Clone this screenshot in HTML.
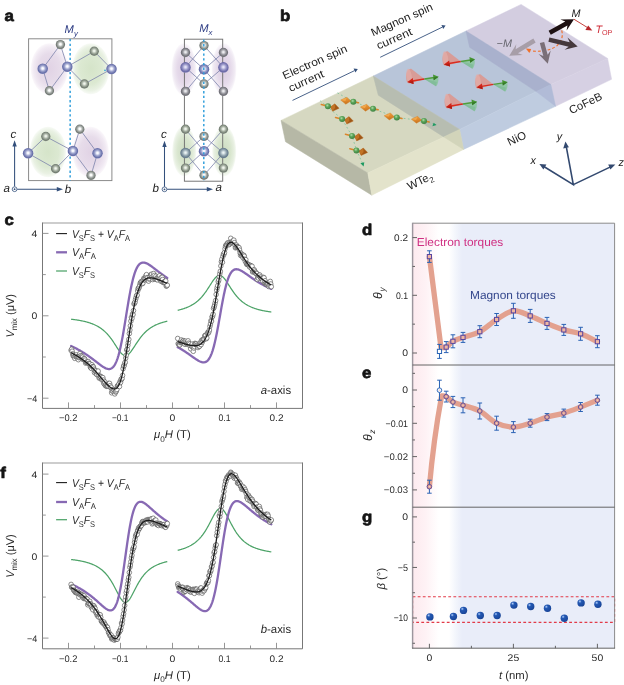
<!DOCTYPE html>
<html><head><meta charset="utf-8"><title>Figure</title>
<style>
html,body{margin:0;padding:0;background:#fff;}
svg{display:block;font-family:"Liberation Sans",sans-serif;text-rendering:geometricPrecision;}
</style></head><body>
<svg width="624" height="685" viewBox="0 0 624 685">
<rect width="624" height="685" fill="#fff"/>
<g>
<path d="M71.1 319.21 L71.62 319.28 L72.14 319.34 L72.66 319.4 L73.18 319.47 L73.7 319.53 L74.22 319.6 L74.74 319.67 L75.26 319.75 L75.78 319.82 L76.3 319.9 L76.82 319.98 L77.34 320.06 L77.86 320.14 L78.38 320.23 L78.9 320.32 L79.42 320.41 L79.94 320.5 L80.46 320.6 L80.98 320.69 L81.5 320.8 L82.02 320.9 L82.54 321.01 L83.06 321.12 L83.58 321.24 L84.1 321.36 L84.62 321.48 L85.14 321.6 L85.66 321.73 L86.18 321.87 L86.7 322.01 L87.22 322.15 L87.74 322.3 L88.26 322.45 L88.78 322.61 L89.3 322.77 L89.82 322.94 L90.34 323.11 L90.86 323.29 L91.38 323.48 L91.9 323.67 L92.42 323.87 L92.94 324.08 L93.46 324.29 L93.98 324.51 L94.5 324.74 L95.02 324.98 L95.54 325.23 L96.06 325.48 L96.58 325.75 L97.1 326.02 L97.62 326.3 L98.14 326.6 L98.66 326.91 L99.18 327.22 L99.7 327.55 L100.22 327.89 L100.74 328.25 L101.26 328.61 L101.78 329 L102.3 329.39 L102.82 329.8 L103.34 330.23 L103.86 330.67 L104.38 331.13 L104.9 331.6 L105.42 332.09 L105.94 332.6 L106.46 333.13 L106.98 333.68 L107.5 334.24 L108.02 334.83 L108.54 335.43 L109.06 336.06 L109.58 336.7 L110.1 337.36 L110.62 338.04 L111.14 338.74 L111.66 339.46 L112.18 340.19 L112.7 340.94 L113.22 341.71 L113.74 342.48 L114.26 343.27 L114.78 344.07 L115.3 344.87 L115.82 345.68 L116.34 346.49 L116.86 347.29 L117.38 348.08 L117.9 348.86 L118.42 349.63 L118.94 350.37 L119.46 351.08 L119.98 351.76 L120.5 352.4 L121.02 353 L121.54 353.54 L122.06 354.03 L122.58 354.46 L123.1 354.82 L123.62 355.11 L124.14 355.34 L124.66 355.48 L125.18 355.55 L125.7 355.54 L126.22 355.46 L126.74 355.3 L127.26 355.06 L127.78 354.75 L128.3 354.38 L128.82 353.94 L129.34 353.44 L129.86 352.88 L130.38 352.28 L130.9 351.63 L131.42 350.94 L131.94 350.22 L132.46 349.48 L132.98 348.71 L133.5 347.92 L134.02 347.13 L134.54 346.32 L135.06 345.52 L135.58 344.71 L136.1 343.91 L136.62 343.11 L137.14 342.33 L137.66 341.55 L138.18 340.79 L138.7 340.04 L139.22 339.31 L139.74 338.6 L140.26 337.9 L140.78 337.23 L141.3 336.57 L141.82 335.93 L142.34 335.31 L142.86 334.71 L143.38 334.13 L143.9 333.57 L144.42 333.02 L144.94 332.5 L145.46 331.99 L145.98 331.51 L146.5 331.03 L147.02 330.58 L147.54 330.14 L148.06 329.72 L148.58 329.31 L149.1 328.92 L149.62 328.54 L150.14 328.18 L150.66 327.82 L151.18 327.48 L151.7 327.16 L152.22 326.84 L152.74 326.54 L153.26 326.25 L153.78 325.96 L154.3 325.69 L154.82 325.43 L155.34 325.18 L155.86 324.93 L156.38 324.7 L156.9 324.47 L157.42 324.25 L157.94 324.04 L158.46 323.83 L158.98 323.63 L159.5 323.44 L160.02 323.26 L160.54 323.08 L161.06 322.91 L161.58 322.74 L162.1 322.58 L162.62 322.42 L163.14 322.27 L163.66 322.12 L164.18 321.98 L164.7 321.84 L165.22 321.71 L165.74 321.58 L166.26 321.45 L166.78 321.33 L167.3 321.21" fill="none" stroke="#4da368" stroke-width="1.25" stroke-linejoin="round"/>
<path d="M71.1 346.07 L71.62 346.31 L72.14 346.55 L72.66 346.79 L73.18 347.04 L73.7 347.29 L74.22 347.55 L74.74 347.8 L75.26 348.06 L75.78 348.33 L76.3 348.6 L76.82 348.87 L77.34 349.14 L77.86 349.42 L78.38 349.7 L78.9 349.99 L79.42 350.28 L79.94 350.58 L80.46 350.87 L80.98 351.18 L81.5 351.48 L82.02 351.79 L82.54 352.11 L83.06 352.43 L83.58 352.75 L84.1 353.08 L84.62 353.41 L85.14 353.75 L85.66 354.09 L86.18 354.43 L86.7 354.78 L87.22 355.13 L87.74 355.49 L88.26 355.85 L88.78 356.21 L89.3 356.58 L89.82 356.95 L90.34 357.33 L90.86 357.71 L91.38 358.09 L91.9 358.48 L92.42 358.87 L92.94 359.26 L93.46 359.65 L93.98 360.05 L94.5 360.45 L95.02 360.85 L95.54 361.25 L96.06 361.66 L96.58 362.06 L97.1 362.46 L97.62 362.87 L98.14 363.27 L98.66 363.67 L99.18 364.06 L99.7 364.45 L100.22 364.84 L100.74 365.22 L101.26 365.59 L101.78 365.96 L102.3 366.31 L102.82 366.66 L103.34 366.99 L103.86 367.3 L104.38 367.6 L104.9 367.87 L105.42 368.13 L105.94 368.36 L106.46 368.56 L106.98 368.74 L107.5 368.87 L108.02 368.98 L108.54 369.04 L109.06 369.05 L109.58 369.01 L110.1 368.92 L110.62 368.78 L111.14 368.56 L111.66 368.28 L112.18 367.92 L112.7 367.48 L113.22 366.95 L113.74 366.33 L114.26 365.61 L114.78 364.78 L115.3 363.84 L115.82 362.79 L116.34 361.61 L116.86 360.3 L117.38 358.86 L117.9 357.28 L118.42 355.57 L118.94 353.71 L119.46 351.71 L119.98 349.57 L120.5 347.28 L121.02 344.86 L121.54 342.32 L122.06 339.64 L122.58 336.85 L123.1 333.96 L123.62 330.97 L124.14 327.9 L124.66 324.77 L125.18 321.59 L125.7 318.38 L126.22 315.15 L126.74 311.93 L127.26 308.73 L127.78 305.57 L128.3 302.46 L128.82 299.42 L129.34 296.47 L129.86 293.62 L130.38 290.87 L130.9 288.25 L131.42 285.75 L131.94 283.39 L132.46 281.16 L132.98 279.08 L133.5 277.13 L134.02 275.33 L134.54 273.67 L135.06 272.15 L135.58 270.76 L136.1 269.51 L136.62 268.38 L137.14 267.37 L137.66 266.48 L138.18 265.69 L138.7 265.01 L139.22 264.43 L139.74 263.94 L140.26 263.53 L140.78 263.2 L141.3 262.95 L141.82 262.76 L142.34 262.63 L142.86 262.57 L143.38 262.55 L143.9 262.58 L144.42 262.66 L144.94 262.78 L145.46 262.93 L145.98 263.11 L146.5 263.33 L147.02 263.57 L147.54 263.83 L148.06 264.12 L148.58 264.42 L149.1 264.74 L149.62 265.08 L150.14 265.43 L150.66 265.79 L151.18 266.15 L151.7 266.53 L152.22 266.91 L152.74 267.3 L153.26 267.7 L153.78 268.09 L154.3 268.49 L154.82 268.89 L155.34 269.3 L155.86 269.7 L156.38 270.1 L156.9 270.51 L157.42 270.91 L157.94 271.31 L158.46 271.71 L158.98 272.1 L159.5 272.5 L160.02 272.89 L160.54 273.28 L161.06 273.66 L161.58 274.04 L162.1 274.42 L162.62 274.8 L163.14 275.17 L163.66 275.53 L164.18 275.9 L164.7 276.26 L165.22 276.61 L165.74 276.96 L166.26 277.31 L166.78 277.65 L167.3 277.99" fill="none" stroke="#8769b3" stroke-width="2.3" stroke-linejoin="round" stroke-linecap="round"/>
<g fill="#fff" stroke="#505050" stroke-width="0.65"><circle cx="71.1" cy="350.32" r="2.3"/><circle cx="71.62" cy="349.21" r="2.3"/><circle cx="72.14" cy="351.22" r="2.3"/><circle cx="72.66" cy="353.83" r="2.3"/><circle cx="73.18" cy="355.86" r="2.3"/><circle cx="73.7" cy="355.06" r="2.3"/><circle cx="74.22" cy="356.65" r="2.3"/><circle cx="74.74" cy="358.33" r="2.3"/><circle cx="75.26" cy="356.46" r="2.3"/><circle cx="75.78" cy="355.79" r="2.3"/><circle cx="76.3" cy="354.89" r="2.3"/><circle cx="76.82" cy="357.16" r="2.3"/><circle cx="77.34" cy="356.84" r="2.3"/><circle cx="77.86" cy="356.96" r="2.3"/><circle cx="78.38" cy="359.71" r="2.3"/><circle cx="78.9" cy="357.67" r="2.3"/><circle cx="79.42" cy="357.2" r="2.3"/><circle cx="79.94" cy="353.51" r="2.3"/><circle cx="80.46" cy="355.67" r="2.3"/><circle cx="80.98" cy="357.53" r="2.3"/><circle cx="81.5" cy="356.22" r="2.3"/><circle cx="82.02" cy="357.56" r="2.3"/><circle cx="82.54" cy="357.17" r="2.3"/><circle cx="83.06" cy="359.39" r="2.3"/><circle cx="83.58" cy="359.67" r="2.3"/><circle cx="84.1" cy="358.6" r="2.3"/><circle cx="84.62" cy="358.83" r="2.3"/><circle cx="85.14" cy="360.14" r="2.3"/><circle cx="85.66" cy="363.12" r="2.3"/><circle cx="86.18" cy="362.15" r="2.3"/><circle cx="86.7" cy="362.52" r="2.3"/><circle cx="87.22" cy="361.8" r="2.3"/><circle cx="87.74" cy="362.54" r="2.3"/><circle cx="88.26" cy="361.62" r="2.3"/><circle cx="88.78" cy="363.38" r="2.3"/><circle cx="89.3" cy="364.06" r="2.3"/><circle cx="89.82" cy="363.82" r="2.3"/><circle cx="90.34" cy="367.03" r="2.3"/><circle cx="90.86" cy="367.68" r="2.3"/><circle cx="91.38" cy="368.43" r="2.3"/><circle cx="91.9" cy="364.73" r="2.3"/><circle cx="92.42" cy="366.77" r="2.3"/><circle cx="92.94" cy="366.76" r="2.3"/><circle cx="93.46" cy="367.09" r="2.3"/><circle cx="93.98" cy="369.11" r="2.3"/><circle cx="94.5" cy="372.63" r="2.3"/><circle cx="95.02" cy="370.27" r="2.3"/><circle cx="95.54" cy="371.78" r="2.3"/><circle cx="96.06" cy="370.87" r="2.3"/><circle cx="96.58" cy="374.25" r="2.3"/><circle cx="97.1" cy="374.72" r="2.3"/><circle cx="97.62" cy="372.29" r="2.3"/><circle cx="98.14" cy="371.07" r="2.3"/><circle cx="98.66" cy="375.56" r="2.3"/><circle cx="99.18" cy="378.16" r="2.3"/><circle cx="99.7" cy="377.51" r="2.3"/><circle cx="100.22" cy="376.14" r="2.3"/><circle cx="100.74" cy="376.75" r="2.3"/><circle cx="101.26" cy="377.11" r="2.3"/><circle cx="101.78" cy="379.85" r="2.3"/><circle cx="102.3" cy="378.77" r="2.3"/><circle cx="102.82" cy="377.59" r="2.3"/><circle cx="103.34" cy="380.02" r="2.3"/><circle cx="103.86" cy="383.27" r="2.3"/><circle cx="104.38" cy="384" r="2.3"/><circle cx="104.9" cy="381.98" r="2.3"/><circle cx="105.42" cy="385.62" r="2.3"/><circle cx="105.94" cy="384.84" r="2.3"/><circle cx="106.46" cy="386.28" r="2.3"/><circle cx="106.98" cy="385.76" r="2.3"/><circle cx="107.5" cy="385.95" r="2.3"/><circle cx="108.02" cy="385.83" r="2.3"/><circle cx="108.54" cy="383.4" r="2.3"/><circle cx="109.06" cy="384.3" r="2.3"/><circle cx="109.58" cy="383.36" r="2.3"/><circle cx="110.1" cy="385.67" r="2.3"/><circle cx="110.62" cy="387.6" r="2.3"/><circle cx="111.14" cy="387.22" r="2.3"/><circle cx="111.66" cy="392.8" r="2.3"/><circle cx="112.18" cy="390.82" r="2.3"/><circle cx="112.7" cy="389.57" r="2.3"/><circle cx="113.22" cy="391.45" r="2.3"/><circle cx="113.74" cy="389.45" r="2.3"/><circle cx="114.26" cy="390.23" r="2.3"/><circle cx="114.78" cy="393.9" r="2.3"/><circle cx="115.3" cy="391.7" r="2.3"/><circle cx="115.82" cy="391.8" r="2.3"/><circle cx="116.34" cy="390.84" r="2.3"/><circle cx="116.86" cy="389.45" r="2.3"/><circle cx="117.38" cy="385.96" r="2.3"/><circle cx="117.9" cy="385.82" r="2.3"/><circle cx="118.42" cy="385.5" r="2.3"/><circle cx="118.94" cy="384.05" r="2.3"/><circle cx="119.46" cy="386.53" r="2.3"/><circle cx="119.98" cy="381.69" r="2.3"/><circle cx="120.5" cy="382.5" r="2.3"/><circle cx="121.02" cy="379.34" r="2.3"/><circle cx="121.54" cy="379.5" r="2.3"/><circle cx="122.06" cy="378.22" r="2.3"/><circle cx="122.58" cy="375.38" r="2.3"/><circle cx="123.1" cy="368.68" r="2.3"/><circle cx="123.62" cy="366.09" r="2.3"/><circle cx="124.14" cy="365.64" r="2.3"/><circle cx="124.66" cy="363.38" r="2.3"/><circle cx="125.18" cy="362.21" r="2.3"/><circle cx="125.7" cy="358.08" r="2.3"/><circle cx="126.22" cy="355.31" r="2.3"/><circle cx="126.74" cy="349.99" r="2.3"/><circle cx="127.26" cy="349.27" r="2.3"/><circle cx="127.78" cy="345.42" r="2.3"/><circle cx="128.3" cy="342.68" r="2.3"/><circle cx="128.82" cy="339.39" r="2.3"/><circle cx="129.34" cy="333.57" r="2.3"/><circle cx="129.86" cy="330.02" r="2.3"/><circle cx="130.38" cy="325.83" r="2.3"/><circle cx="130.9" cy="321.1" r="2.3"/><circle cx="131.42" cy="317.28" r="2.3"/><circle cx="131.94" cy="318.31" r="2.3"/><circle cx="132.46" cy="314.07" r="2.3"/><circle cx="132.98" cy="314.62" r="2.3"/><circle cx="133.5" cy="310.63" r="2.3"/><circle cx="134.02" cy="303.94" r="2.3"/><circle cx="134.54" cy="303.14" r="2.3"/><circle cx="135.06" cy="301.96" r="2.3"/><circle cx="135.58" cy="299.4" r="2.3"/><circle cx="136.1" cy="297.43" r="2.3"/><circle cx="136.62" cy="295.53" r="2.3"/><circle cx="137.14" cy="295.13" r="2.3"/><circle cx="137.66" cy="290.94" r="2.3"/><circle cx="138.18" cy="288.47" r="2.3"/><circle cx="138.7" cy="288.52" r="2.3"/><circle cx="139.22" cy="287.02" r="2.3"/><circle cx="139.74" cy="285.12" r="2.3"/><circle cx="140.26" cy="283.01" r="2.3"/><circle cx="140.78" cy="282.63" r="2.3"/><circle cx="141.3" cy="281.49" r="2.3"/><circle cx="141.82" cy="282.24" r="2.3"/><circle cx="142.34" cy="283.69" r="2.3"/><circle cx="142.86" cy="283.11" r="2.3"/><circle cx="143.38" cy="279.91" r="2.3"/><circle cx="143.9" cy="278.16" r="2.3"/><circle cx="144.42" cy="278.53" r="2.3"/><circle cx="144.94" cy="279.79" r="2.3"/><circle cx="145.46" cy="278.74" r="2.3"/><circle cx="145.98" cy="275.72" r="2.3"/><circle cx="146.5" cy="274.64" r="2.3"/><circle cx="147.02" cy="277.58" r="2.3"/><circle cx="147.54" cy="277.87" r="2.3"/><circle cx="148.06" cy="280.43" r="2.3"/><circle cx="148.58" cy="281.12" r="2.3"/><circle cx="149.1" cy="279.12" r="2.3"/><circle cx="149.62" cy="278.41" r="2.3"/><circle cx="150.14" cy="276.41" r="2.3"/><circle cx="150.66" cy="274.89" r="2.3"/><circle cx="151.18" cy="274.92" r="2.3"/><circle cx="151.7" cy="274.12" r="2.3"/><circle cx="152.22" cy="277.03" r="2.3"/><circle cx="152.74" cy="279.56" r="2.3"/><circle cx="153.26" cy="278.02" r="2.3"/><circle cx="153.78" cy="273.51" r="2.3"/><circle cx="154.3" cy="275.39" r="2.3"/><circle cx="154.82" cy="279.04" r="2.3"/><circle cx="155.34" cy="278.51" r="2.3"/><circle cx="155.86" cy="276.25" r="2.3"/><circle cx="156.38" cy="279.52" r="2.3"/><circle cx="156.9" cy="278.03" r="2.3"/><circle cx="157.42" cy="279.85" r="2.3"/><circle cx="157.94" cy="277.57" r="2.3"/><circle cx="158.46" cy="277.37" r="2.3"/><circle cx="158.98" cy="278.22" r="2.3"/><circle cx="159.5" cy="275.78" r="2.3"/><circle cx="160.02" cy="278.88" r="2.3"/><circle cx="160.54" cy="281.02" r="2.3"/><circle cx="161.06" cy="277.75" r="2.3"/><circle cx="161.58" cy="281.01" r="2.3"/><circle cx="162.1" cy="277.36" r="2.3"/><circle cx="162.62" cy="279.57" r="2.3"/><circle cx="163.14" cy="282.53" r="2.3"/><circle cx="163.66" cy="282.3" r="2.3"/><circle cx="164.18" cy="282.07" r="2.3"/><circle cx="164.7" cy="281.94" r="2.3"/><circle cx="165.22" cy="282.68" r="2.3"/><circle cx="165.74" cy="280.93" r="2.3"/><circle cx="166.26" cy="286.12" r="2.3"/><circle cx="166.78" cy="285.73" r="2.3"/><circle cx="167.3" cy="285.14" r="2.3"/></g>
<path d="M71.1 352.58 L71.62 352.87 L72.14 353.17 L72.66 353.47 L73.18 353.77 L73.7 354.07 L74.22 354.37 L74.74 354.67 L75.26 354.98 L75.78 355.29 L76.3 355.6 L76.82 355.91 L77.34 356.22 L77.86 356.54 L78.38 356.86 L78.9 357.19 L79.42 357.52 L79.94 357.85 L80.46 358.19 L80.98 358.54 L81.5 358.89 L82.02 359.24 L82.54 359.6 L83.06 359.97 L83.58 360.34 L84.1 360.72 L84.62 361.11 L85.14 361.51 L85.66 361.91 L86.18 362.32 L86.7 362.74 L87.22 363.17 L87.74 363.61 L88.26 364.05 L88.78 364.51 L89.3 364.98 L89.82 365.45 L90.34 365.94 L90.86 366.43 L91.38 366.93 L91.9 367.45 L92.42 367.97 L92.94 368.5 L93.46 369.04 L93.98 369.6 L94.5 370.15 L95.02 370.72 L95.54 371.3 L96.06 371.88 L96.58 372.47 L97.1 373.06 L97.62 373.66 L98.14 374.26 L98.66 374.87 L99.18 375.48 L99.7 376.09 L100.22 376.7 L100.74 377.31 L101.26 377.92 L101.78 378.53 L102.3 379.13 L102.82 379.73 L103.34 380.33 L103.86 380.91 L104.38 381.49 L104.9 382.06 L105.42 382.63 L105.94 383.18 L106.46 383.72 L106.98 384.25 L107.5 384.76 L108.02 385.26 L108.54 385.74 L109.06 386.21 L109.58 386.65 L110.1 387.07 L110.62 387.45 L111.14 387.81 L111.66 388.13 L112.18 388.41 L112.7 388.65 L113.22 388.83 L113.74 388.95 L114.26 389 L114.78 388.98 L115.3 388.87 L115.82 388.67 L116.34 388.36 L116.86 387.94 L117.38 387.4 L117.9 386.72 L118.42 385.9 L118.94 384.93 L119.46 383.79 L119.98 382.49 L120.5 381.02 L121.02 379.37 L121.54 377.54 L122.06 375.53 L122.58 373.34 L123.1 370.98 L123.62 368.46 L124.14 365.77 L124.66 362.94 L125.18 359.98 L125.7 356.9 L126.22 353.72 L126.74 350.46 L127.26 347.13 L127.78 343.76 L128.3 340.37 L128.82 336.98 L129.34 333.61 L129.86 330.27 L130.38 326.98 L130.9 323.76 L131.42 320.62 L131.94 317.58 L132.46 314.64 L132.98 311.82 L133.5 309.12 L134.02 306.55 L134.54 304.1 L135.06 301.79 L135.58 299.61 L136.1 297.57 L136.62 295.65 L137.14 293.86 L137.66 292.2 L138.18 290.66 L138.7 289.24 L139.22 287.93 L139.74 286.72 L140.26 285.62 L140.78 284.62 L141.3 283.71 L141.82 282.88 L142.34 282.14 L142.86 281.47 L143.38 280.88 L143.9 280.35 L144.42 279.88 L144.94 279.48 L145.46 279.12 L145.98 278.82 L146.5 278.56 L147.02 278.35 L147.54 278.18 L148.06 278.04 L148.58 277.94 L149.1 277.86 L149.62 277.82 L150.14 277.8 L150.66 277.81 L151.18 277.84 L151.7 277.89 L152.22 277.96 L152.74 278.04 L153.26 278.14 L153.78 278.26 L154.3 278.39 L154.82 278.52 L155.34 278.67 L155.86 278.83 L156.38 279 L156.9 279.18 L157.42 279.36 L157.94 279.55 L158.46 279.74 L158.98 279.94 L159.5 280.14 L160.02 280.35 L160.54 280.55 L161.06 280.77 L161.58 280.98 L162.1 281.2 L162.62 281.42 L163.14 281.63 L163.66 281.85 L164.18 282.08 L164.7 282.3 L165.22 282.52 L165.74 282.74 L166.26 282.96 L166.78 283.18 L167.3 283.4" fill="none" stroke="#1c1c1c" stroke-width="1.3" stroke-linejoin="round"/>
<path d="M177.7 310.28 L178.22 310.16 L178.74 310.03 L179.26 309.91 L179.78 309.77 L180.3 309.64 L180.82 309.5 L181.34 309.35 L181.86 309.2 L182.38 309.05 L182.9 308.89 L183.42 308.72 L183.94 308.55 L184.46 308.37 L184.98 308.19 L185.5 308 L186.02 307.8 L186.54 307.6 L187.06 307.39 L187.58 307.18 L188.1 306.95 L188.62 306.72 L189.14 306.48 L189.66 306.23 L190.18 305.97 L190.7 305.7 L191.22 305.42 L191.74 305.13 L192.26 304.83 L192.78 304.52 L193.3 304.2 L193.82 303.87 L194.34 303.52 L194.86 303.16 L195.38 302.79 L195.9 302.4 L196.42 302 L196.94 301.58 L197.46 301.15 L197.98 300.7 L198.5 300.23 L199.02 299.75 L199.54 299.25 L200.06 298.73 L200.58 298.2 L201.1 297.64 L201.62 297.07 L202.14 296.48 L202.66 295.86 L203.18 295.23 L203.7 294.58 L204.22 293.91 L204.74 293.21 L205.26 292.5 L205.78 291.78 L206.3 291.03 L206.82 290.27 L207.34 289.49 L207.86 288.7 L208.38 287.9 L208.9 287.09 L209.42 286.28 L209.94 285.46 L210.46 284.64 L210.98 283.82 L211.5 283.02 L212.02 282.22 L212.54 281.45 L213.06 280.7 L213.58 279.97 L214.1 279.28 L214.62 278.63 L215.14 278.03 L215.66 277.47 L216.18 276.98 L216.7 276.54 L217.22 276.17 L217.74 275.87 L218.26 275.65 L218.78 275.5 L219.3 275.43 L219.82 275.44 L220.34 275.52 L220.86 275.69 L221.38 275.93 L221.9 276.24 L222.42 276.62 L222.94 277.07 L223.46 277.58 L223.98 278.14 L224.5 278.76 L225.02 279.42 L225.54 280.11 L226.06 280.84 L226.58 281.6 L227.1 282.38 L227.62 283.18 L228.14 283.99 L228.66 284.8 L229.18 285.62 L229.7 286.44 L230.22 287.25 L230.74 288.06 L231.26 288.86 L231.78 289.65 L232.3 290.42 L232.82 291.18 L233.34 291.92 L233.86 292.65 L234.38 293.35 L234.9 294.04 L235.42 294.71 L235.94 295.36 L236.46 295.99 L236.98 296.6 L237.5 297.19 L238.02 297.76 L238.54 298.31 L239.06 298.84 L239.58 299.35 L240.1 299.85 L240.62 300.33 L241.14 300.79 L241.66 301.24 L242.18 301.66 L242.7 302.08 L243.22 302.48 L243.74 302.86 L244.26 303.23 L244.78 303.59 L245.3 303.93 L245.82 304.27 L246.34 304.58 L246.86 304.89 L247.38 305.19 L247.9 305.48 L248.42 305.75 L248.94 306.02 L249.46 306.28 L249.98 306.53 L250.5 306.77 L251.02 307 L251.54 307.22 L252.06 307.44 L252.58 307.64 L253.1 307.84 L253.62 308.04 L254.14 308.23 L254.66 308.41 L255.18 308.58 L255.7 308.75 L256.22 308.92 L256.74 309.08 L257.26 309.23 L257.78 309.38 L258.3 309.53 L258.82 309.67 L259.34 309.8 L259.86 309.93 L260.38 310.06 L260.9 310.18 L261.42 310.3 L261.94 310.42 L262.46 310.53 L262.98 310.64 L263.5 310.75 L264.02 310.85 L264.54 310.95 L265.06 311.05 L265.58 311.14 L266.1 311.23 L266.62 311.32 L267.14 311.41 L267.66 311.49 L268.18 311.57 L268.7 311.65 L269.22 311.73 L269.74 311.81 L270.26 311.88 L270.78 311.95 L271.3 312.02" fill="none" stroke="#4da368" stroke-width="1.25" stroke-linejoin="round"/>
<path d="M177.7 347.17 L178.22 347.45 L178.74 347.75 L179.26 348.04 L179.78 348.34 L180.3 348.64 L180.82 348.95 L181.34 349.26 L181.86 349.58 L182.38 349.9 L182.9 350.22 L183.42 350.55 L183.94 350.88 L184.46 351.21 L184.98 351.55 L185.5 351.89 L186.02 352.24 L186.54 352.59 L187.06 352.94 L187.58 353.29 L188.1 353.65 L188.62 354.01 L189.14 354.38 L189.66 354.74 L190.18 355.11 L190.7 355.48 L191.22 355.85 L191.74 356.21 L192.26 356.58 L192.78 356.95 L193.3 357.32 L193.82 357.68 L194.34 358.05 L194.86 358.4 L195.38 358.76 L195.9 359.1 L196.42 359.44 L196.94 359.77 L197.46 360.1 L197.98 360.4 L198.5 360.7 L199.02 360.98 L199.54 361.24 L200.06 361.48 L200.58 361.7 L201.1 361.89 L201.62 362.06 L202.14 362.19 L202.66 362.28 L203.18 362.34 L203.7 362.36 L204.22 362.32 L204.74 362.23 L205.26 362.09 L205.78 361.88 L206.3 361.61 L206.82 361.26 L207.34 360.83 L207.86 360.32 L208.38 359.71 L208.9 359.01 L209.42 358.2 L209.94 357.28 L210.46 356.24 L210.98 355.09 L211.5 353.81 L212.02 352.39 L212.54 350.85 L213.06 349.17 L213.58 347.35 L214.1 345.39 L214.62 343.31 L215.14 341.09 L215.66 338.74 L216.18 336.28 L216.7 333.71 L217.22 331.04 L217.74 328.28 L218.26 325.45 L218.78 322.56 L219.3 319.64 L219.82 316.69 L220.34 313.73 L220.86 310.79 L221.38 307.88 L221.9 305.01 L222.42 302.21 L222.94 299.49 L223.46 296.85 L223.98 294.32 L224.5 291.91 L225.02 289.61 L225.54 287.44 L226.06 285.41 L226.58 283.51 L227.1 281.75 L227.62 280.12 L228.14 278.63 L228.66 277.27 L229.18 276.04 L229.7 274.93 L230.22 273.94 L230.74 273.07 L231.26 272.3 L231.78 271.64 L232.3 271.07 L232.82 270.59 L233.34 270.19 L233.86 269.87 L234.38 269.63 L234.9 269.44 L235.42 269.32 L235.94 269.26 L236.46 269.24 L236.98 269.28 L237.5 269.35 L238.02 269.46 L238.54 269.61 L239.06 269.78 L239.58 269.99 L240.1 270.21 L240.62 270.46 L241.14 270.73 L241.66 271.02 L242.18 271.32 L242.7 271.63 L243.22 271.96 L243.74 272.29 L244.26 272.63 L244.78 272.98 L245.3 273.34 L245.82 273.7 L246.34 274.06 L246.86 274.43 L247.38 274.79 L247.9 275.16 L248.42 275.53 L248.94 275.9 L249.46 276.27 L249.98 276.64 L250.5 277.01 L251.02 277.37 L251.54 277.73 L252.06 278.09 L252.58 278.45 L253.1 278.8 L253.62 279.15 L254.14 279.5 L254.66 279.85 L255.18 280.19 L255.7 280.52 L256.22 280.86 L256.74 281.19 L257.26 281.51 L257.78 281.83 L258.3 282.15 L258.82 282.46 L259.34 282.77 L259.86 283.08 L260.38 283.38 L260.9 283.68 L261.42 283.97 L261.94 284.26 L262.46 284.55 L262.98 284.83 L263.5 285.11 L264.02 285.38 L264.54 285.65 L265.06 285.92 L265.58 286.18 L266.1 286.44 L266.62 286.69 L267.14 286.94 L267.66 287.19 L268.18 287.44 L268.7 287.68 L269.22 287.91 L269.74 288.15 L270.26 288.38 L270.78 288.61 L271.3 288.83" fill="none" stroke="#8769b3" stroke-width="2.3" stroke-linejoin="round" stroke-linecap="round"/>
<g fill="#fff" stroke="#505050" stroke-width="0.65"><circle cx="177.7" cy="338.46" r="2.3"/><circle cx="178.22" cy="343.71" r="2.3"/><circle cx="178.74" cy="343.52" r="2.3"/><circle cx="179.26" cy="344.92" r="2.3"/><circle cx="179.78" cy="344.86" r="2.3"/><circle cx="180.3" cy="342.63" r="2.3"/><circle cx="180.82" cy="342" r="2.3"/><circle cx="181.34" cy="339.97" r="2.3"/><circle cx="181.86" cy="342.61" r="2.3"/><circle cx="182.38" cy="342.49" r="2.3"/><circle cx="182.9" cy="340.92" r="2.3"/><circle cx="183.42" cy="340.69" r="2.3"/><circle cx="183.94" cy="342.83" r="2.3"/><circle cx="184.46" cy="341.41" r="2.3"/><circle cx="184.98" cy="344.37" r="2.3"/><circle cx="185.5" cy="341.15" r="2.3"/><circle cx="186.02" cy="342.5" r="2.3"/><circle cx="186.54" cy="343.72" r="2.3"/><circle cx="187.06" cy="343.72" r="2.3"/><circle cx="187.58" cy="342.78" r="2.3"/><circle cx="188.1" cy="340.81" r="2.3"/><circle cx="188.62" cy="343.18" r="2.3"/><circle cx="189.14" cy="344.82" r="2.3"/><circle cx="189.66" cy="344.03" r="2.3"/><circle cx="190.18" cy="346.23" r="2.3"/><circle cx="190.7" cy="348.82" r="2.3"/><circle cx="191.22" cy="345.73" r="2.3"/><circle cx="191.74" cy="346.34" r="2.3"/><circle cx="192.26" cy="344.04" r="2.3"/><circle cx="192.78" cy="346.68" r="2.3"/><circle cx="193.3" cy="351.3" r="2.3"/><circle cx="193.82" cy="348.04" r="2.3"/><circle cx="194.34" cy="346.64" r="2.3"/><circle cx="194.86" cy="343.4" r="2.3"/><circle cx="195.38" cy="343.64" r="2.3"/><circle cx="195.9" cy="344.11" r="2.3"/><circle cx="196.42" cy="343.82" r="2.3"/><circle cx="196.94" cy="345.28" r="2.3"/><circle cx="197.46" cy="345.17" r="2.3"/><circle cx="197.98" cy="347.53" r="2.3"/><circle cx="198.5" cy="345.34" r="2.3"/><circle cx="199.02" cy="346.44" r="2.3"/><circle cx="199.54" cy="346.22" r="2.3"/><circle cx="200.06" cy="343.95" r="2.3"/><circle cx="200.58" cy="342.26" r="2.3"/><circle cx="201.1" cy="344.57" r="2.3"/><circle cx="201.62" cy="340.23" r="2.3"/><circle cx="202.14" cy="342.34" r="2.3"/><circle cx="202.66" cy="340.61" r="2.3"/><circle cx="203.18" cy="339.23" r="2.3"/><circle cx="203.7" cy="339.45" r="2.3"/><circle cx="204.22" cy="339.27" r="2.3"/><circle cx="204.74" cy="335.9" r="2.3"/><circle cx="205.26" cy="335.34" r="2.3"/><circle cx="205.78" cy="335.32" r="2.3"/><circle cx="206.3" cy="338.73" r="2.3"/><circle cx="206.82" cy="337.95" r="2.3"/><circle cx="207.34" cy="333.55" r="2.3"/><circle cx="207.86" cy="332.34" r="2.3"/><circle cx="208.38" cy="332.99" r="2.3"/><circle cx="208.9" cy="331.94" r="2.3"/><circle cx="209.42" cy="329.95" r="2.3"/><circle cx="209.94" cy="326.28" r="2.3"/><circle cx="210.46" cy="323.97" r="2.3"/><circle cx="210.98" cy="320.69" r="2.3"/><circle cx="211.5" cy="321.11" r="2.3"/><circle cx="212.02" cy="316.98" r="2.3"/><circle cx="212.54" cy="316.29" r="2.3"/><circle cx="213.06" cy="314.29" r="2.3"/><circle cx="213.58" cy="308.38" r="2.3"/><circle cx="214.1" cy="306.94" r="2.3"/><circle cx="214.62" cy="305.14" r="2.3"/><circle cx="215.14" cy="302.89" r="2.3"/><circle cx="215.66" cy="300.55" r="2.3"/><circle cx="216.18" cy="294.43" r="2.3"/><circle cx="216.7" cy="290.12" r="2.3"/><circle cx="217.22" cy="287.55" r="2.3"/><circle cx="217.74" cy="285.62" r="2.3"/><circle cx="218.26" cy="281.59" r="2.3"/><circle cx="218.78" cy="279.98" r="2.3"/><circle cx="219.3" cy="276.72" r="2.3"/><circle cx="219.82" cy="273.69" r="2.3"/><circle cx="220.34" cy="271.27" r="2.3"/><circle cx="220.86" cy="265.94" r="2.3"/><circle cx="221.38" cy="261.75" r="2.3"/><circle cx="221.9" cy="259.14" r="2.3"/><circle cx="222.42" cy="262.31" r="2.3"/><circle cx="222.94" cy="256.21" r="2.3"/><circle cx="223.46" cy="254.1" r="2.3"/><circle cx="223.98" cy="254.11" r="2.3"/><circle cx="224.5" cy="252.5" r="2.3"/><circle cx="225.02" cy="248.87" r="2.3"/><circle cx="225.54" cy="246.29" r="2.3"/><circle cx="226.06" cy="244.95" r="2.3"/><circle cx="226.58" cy="244.99" r="2.3"/><circle cx="227.1" cy="244.74" r="2.3"/><circle cx="227.62" cy="242.85" r="2.3"/><circle cx="228.14" cy="243.22" r="2.3"/><circle cx="228.66" cy="244.58" r="2.3"/><circle cx="229.18" cy="244.61" r="2.3"/><circle cx="229.7" cy="243.68" r="2.3"/><circle cx="230.22" cy="242.34" r="2.3"/><circle cx="230.74" cy="238.3" r="2.3"/><circle cx="231.26" cy="242.7" r="2.3"/><circle cx="231.78" cy="241.77" r="2.3"/><circle cx="232.3" cy="242.44" r="2.3"/><circle cx="232.82" cy="242.28" r="2.3"/><circle cx="233.34" cy="240.57" r="2.3"/><circle cx="233.86" cy="240.16" r="2.3"/><circle cx="234.38" cy="242.69" r="2.3"/><circle cx="234.9" cy="244.95" r="2.3"/><circle cx="235.42" cy="247.82" r="2.3"/><circle cx="235.94" cy="247.34" r="2.3"/><circle cx="236.46" cy="245.15" r="2.3"/><circle cx="236.98" cy="247.08" r="2.3"/><circle cx="237.5" cy="246.73" r="2.3"/><circle cx="238.02" cy="246.94" r="2.3"/><circle cx="238.54" cy="248" r="2.3"/><circle cx="239.06" cy="247.74" r="2.3"/><circle cx="239.58" cy="250.12" r="2.3"/><circle cx="240.1" cy="252.98" r="2.3"/><circle cx="240.62" cy="255.43" r="2.3"/><circle cx="241.14" cy="253.4" r="2.3"/><circle cx="241.66" cy="255.06" r="2.3"/><circle cx="242.18" cy="256.22" r="2.3"/><circle cx="242.7" cy="255.2" r="2.3"/><circle cx="243.22" cy="257.95" r="2.3"/><circle cx="243.74" cy="255.25" r="2.3"/><circle cx="244.26" cy="256.23" r="2.3"/><circle cx="244.78" cy="259.21" r="2.3"/><circle cx="245.3" cy="261.28" r="2.3"/><circle cx="245.82" cy="259.69" r="2.3"/><circle cx="246.34" cy="263.25" r="2.3"/><circle cx="246.86" cy="264.44" r="2.3"/><circle cx="247.38" cy="264.27" r="2.3"/><circle cx="247.9" cy="264.2" r="2.3"/><circle cx="248.42" cy="264.84" r="2.3"/><circle cx="248.94" cy="264.85" r="2.3"/><circle cx="249.46" cy="266.51" r="2.3"/><circle cx="249.98" cy="267.24" r="2.3"/><circle cx="250.5" cy="265.5" r="2.3"/><circle cx="251.02" cy="266.03" r="2.3"/><circle cx="251.54" cy="268.52" r="2.3"/><circle cx="252.06" cy="266.27" r="2.3"/><circle cx="252.58" cy="271.93" r="2.3"/><circle cx="253.1" cy="271.42" r="2.3"/><circle cx="253.62" cy="270.42" r="2.3"/><circle cx="254.14" cy="269.66" r="2.3"/><circle cx="254.66" cy="271.06" r="2.3"/><circle cx="255.18" cy="272.89" r="2.3"/><circle cx="255.7" cy="272.36" r="2.3"/><circle cx="256.22" cy="273.71" r="2.3"/><circle cx="256.74" cy="273.46" r="2.3"/><circle cx="257.26" cy="279.41" r="2.3"/><circle cx="257.78" cy="276.95" r="2.3"/><circle cx="258.3" cy="278.01" r="2.3"/><circle cx="258.82" cy="275.73" r="2.3"/><circle cx="259.34" cy="275.15" r="2.3"/><circle cx="259.86" cy="275.11" r="2.3"/><circle cx="260.38" cy="277.28" r="2.3"/><circle cx="260.9" cy="277.11" r="2.3"/><circle cx="261.42" cy="278.59" r="2.3"/><circle cx="261.94" cy="278.55" r="2.3"/><circle cx="262.46" cy="279.35" r="2.3"/><circle cx="262.98" cy="281.22" r="2.3"/><circle cx="263.5" cy="277.36" r="2.3"/><circle cx="264.02" cy="277.81" r="2.3"/><circle cx="264.54" cy="283.09" r="2.3"/><circle cx="265.06" cy="280.74" r="2.3"/><circle cx="265.58" cy="283.75" r="2.3"/><circle cx="266.1" cy="283.39" r="2.3"/><circle cx="266.62" cy="283.99" r="2.3"/><circle cx="267.14" cy="284.38" r="2.3"/><circle cx="267.66" cy="283.37" r="2.3"/><circle cx="268.18" cy="284.02" r="2.3"/><circle cx="268.7" cy="286.47" r="2.3"/><circle cx="269.22" cy="285.33" r="2.3"/><circle cx="269.74" cy="284.26" r="2.3"/><circle cx="270.26" cy="281.41" r="2.3"/><circle cx="270.78" cy="283.96" r="2.3"/><circle cx="271.3" cy="286.74" r="2.3"/></g>
<path d="M177.7 341.65 L178.22 341.81 L178.74 341.98 L179.26 342.15 L179.78 342.31 L180.3 342.48 L180.82 342.65 L181.34 342.81 L181.86 342.98 L182.38 343.14 L182.9 343.3 L183.42 343.47 L183.94 343.63 L184.46 343.78 L184.98 343.94 L185.5 344.09 L186.02 344.24 L186.54 344.39 L187.06 344.53 L187.58 344.67 L188.1 344.8 L188.62 344.93 L189.14 345.05 L189.66 345.17 L190.18 345.28 L190.7 345.37 L191.22 345.47 L191.74 345.55 L192.26 345.62 L192.78 345.67 L193.3 345.72 L193.82 345.75 L194.34 345.76 L194.86 345.76 L195.38 345.74 L195.9 345.7 L196.42 345.64 L196.94 345.55 L197.46 345.44 L197.98 345.3 L198.5 345.13 L199.02 344.93 L199.54 344.69 L200.06 344.41 L200.58 344.09 L201.1 343.73 L201.62 343.31 L202.14 342.85 L202.66 342.33 L203.18 341.75 L203.7 341.11 L204.22 340.4 L204.74 339.61 L205.26 338.75 L205.78 337.81 L206.3 336.78 L206.82 335.66 L207.34 334.45 L207.86 333.13 L208.38 331.71 L208.9 330.18 L209.42 328.53 L209.94 326.77 L210.46 324.9 L210.98 322.9 L211.5 320.78 L212.02 318.55 L212.54 316.19 L213.06 313.72 L213.58 311.13 L214.1 308.44 L214.62 305.65 L215.14 302.77 L215.66 299.81 L216.18 296.79 L216.7 293.72 L217.22 290.6 L217.74 287.47 L218.26 284.34 L218.78 281.22 L219.3 278.13 L219.82 275.1 L220.34 272.13 L220.86 269.25 L221.38 266.48 L221.9 263.82 L222.42 261.3 L222.94 258.92 L223.46 256.69 L223.98 254.61 L224.5 252.71 L225.02 250.97 L225.54 249.4 L226.06 248 L226.58 246.76 L227.1 245.69 L227.62 244.78 L228.14 244.02 L228.66 243.41 L229.18 242.94 L229.7 242.6 L230.22 242.38 L230.74 242.28 L231.26 242.29 L231.78 242.4 L232.3 242.6 L232.82 242.88 L233.34 243.24 L233.86 243.67 L234.38 244.17 L234.9 244.72 L235.42 245.32 L235.94 245.96 L236.46 246.64 L236.98 247.36 L237.5 248.1 L238.02 248.87 L238.54 249.66 L239.06 250.46 L239.58 251.28 L240.1 252.11 L240.62 252.94 L241.14 253.78 L241.66 254.61 L242.18 255.45 L242.7 256.28 L243.22 257.11 L243.74 257.93 L244.26 258.74 L244.78 259.54 L245.3 260.34 L245.82 261.12 L246.34 261.88 L246.86 262.64 L247.38 263.38 L247.9 264.11 L248.42 264.82 L248.94 265.52 L249.46 266.21 L249.98 266.88 L250.5 267.54 L251.02 268.18 L251.54 268.81 L252.06 269.42 L252.58 270.02 L253.1 270.61 L253.62 271.18 L254.14 271.74 L254.66 272.29 L255.18 272.83 L255.7 273.36 L256.22 273.87 L256.74 274.37 L257.26 274.87 L257.78 275.35 L258.3 275.82 L258.82 276.28 L259.34 276.73 L259.86 277.18 L260.38 277.61 L260.9 278.04 L261.42 278.45 L261.94 278.86 L262.46 279.26 L262.98 279.66 L263.5 280.04 L264.02 280.42 L264.54 280.79 L265.06 281.16 L265.58 281.51 L266.1 281.87 L266.62 282.21 L267.14 282.55 L267.66 282.88 L268.18 283.21 L268.7 283.53 L269.22 283.84 L269.74 284.15 L270.26 284.46 L270.78 284.76 L271.3 285.05" fill="none" stroke="#1c1c1c" stroke-width="1.3" stroke-linejoin="round"/>
<path d="M42.5 223H302.5" fill="none" stroke="#9c9c9c" stroke-width="1.1"/>
<path d="M42.5 222.5V408.4H302.5V222.5" fill="none" stroke="#777" stroke-width="1"/>
<path d="M68.5 408.4v-6M120.5 408.4v-6M172.5 408.4v-6M224.5 408.4v-6M276.5 408.4v-6M94.5 408.4v-3.3M146.5 408.4v-3.3M198.5 408.4v-3.3M250.5 408.4v-3.3M42.5 398.2h6M42.5 315.8h6M42.5 233.4h6M42.5 357h3.3M42.5 274.6h3.3" stroke="#8a8a8a" stroke-width="0.9" fill="none"/>
<text x="59" y="421.3" font-size="9.6" fill="#2a2a2a" textLength="18.4" lengthAdjust="spacingAndGlyphs">−0.2</text>
<text x="111.9" y="421.3" font-size="9.6" fill="#2a2a2a" textLength="16.6" lengthAdjust="spacingAndGlyphs">−0.1</text>
<text x="169.6" y="421.3" font-size="9.6" fill="#2a2a2a" textLength="5.8" lengthAdjust="spacingAndGlyphs">0</text>
<text x="218.45" y="421.3" font-size="9.6" fill="#2a2a2a" textLength="12.1" lengthAdjust="spacingAndGlyphs">0.1</text>
<text x="269.55" y="421.3" font-size="9.6" fill="#2a2a2a" textLength="13.9" lengthAdjust="spacingAndGlyphs">0.2</text>
<text x="31.4" y="236.8" font-size="9.6" fill="#2a2a2a" textLength="5.8" lengthAdjust="spacingAndGlyphs">4</text>
<text x="31.4" y="319.2" font-size="9.6" fill="#2a2a2a" textLength="5.8" lengthAdjust="spacingAndGlyphs">0</text>
<text x="26.9" y="401.6" font-size="9.6" fill="#2a2a2a" textLength="10.3" lengthAdjust="spacingAndGlyphs">−4</text>
<text x="154.1" y="438.4" font-size="11.3" fill="#2a2a2a" textLength="36.6" lengthAdjust="spacingAndGlyphs"><tspan font-style="italic">μ</tspan><tspan font-size="8.2" dy="3.2">0</tspan><tspan dy="-3.2" font-style="italic">H</tspan> (T)</text>
<text transform="translate(13.9 337.5) rotate(-90)" font-size="11.3" fill="#2a2a2a" textLength="43.4" lengthAdjust="spacingAndGlyphs"><tspan font-style="italic">V</tspan><tspan font-size="8.2" dy="3.2">mix</tspan><tspan dy="-3.2"> (μV)</tspan></text>
<path d="M56.1 233.6h10.9" stroke="#1c1c1c" stroke-width="1.1"/>
<path d="M56.1 252.3h10.9" stroke="#8769b3" stroke-width="2.3"/>
<path d="M56.1 271h10.9" stroke="#4da368" stroke-width="1.25"/>
<g font-size="11.3" fill="#2a2a2a">
<text x="71.9" y="237.5" textLength="58.1" lengthAdjust="spacingAndGlyphs"><tspan font-style="italic">V</tspan><tspan font-size="8.2" dy="3.2">S</tspan><tspan font-style="italic" dy="-3.2">F</tspan><tspan font-size="8.2" dy="3.2">S</tspan><tspan dy="-3.2"> + </tspan><tspan font-style="italic">V</tspan><tspan font-size="8.2" dy="3.2">A</tspan><tspan font-style="italic" dy="-3.2">F</tspan><tspan font-size="8.2" dy="3.2">A</tspan></text>
<text x="71.9" y="256.2" textLength="24" lengthAdjust="spacingAndGlyphs"><tspan font-style="italic">V</tspan><tspan font-size="8.2" dy="3.2">A</tspan><tspan font-style="italic" dy="-3.2">F</tspan><tspan font-size="8.2" dy="3.2">A</tspan></text>
<text x="71.9" y="274.9" textLength="23.2" lengthAdjust="spacingAndGlyphs"><tspan font-style="italic">V</tspan><tspan font-size="8.2" dy="3.2">S</tspan><tspan font-style="italic" dy="-3.2">F</tspan><tspan font-size="8.2" dy="3.2">S</tspan></text>
</g>
<text x="260.7" y="393.9" font-size="11.6" fill="#2a2a2a" textLength="30.4" lengthAdjust="spacingAndGlyphs"><tspan font-style="italic">a</tspan>-axis</text>
<text x="4.6" y="225" font-size="15.6" font-weight="bold" fill="#151515" stroke="#151515" stroke-width="0.7" stroke-linejoin="round" textLength="9.37" lengthAdjust="spacingAndGlyphs">c</text>
</g><g>
<path d="M71.1 559.53 L71.62 559.59 L72.14 559.65 L72.66 559.72 L73.18 559.78 L73.7 559.85 L74.22 559.92 L74.74 559.99 L75.26 560.07 L75.78 560.14 L76.3 560.22 L76.82 560.3 L77.34 560.39 L77.86 560.47 L78.38 560.56 L78.9 560.65 L79.42 560.74 L79.94 560.84 L80.46 560.94 L80.98 561.04 L81.5 561.14 L82.02 561.25 L82.54 561.36 L83.06 561.48 L83.58 561.6 L84.1 561.72 L84.62 561.85 L85.14 561.98 L85.66 562.11 L86.18 562.25 L86.7 562.39 L87.22 562.54 L87.74 562.7 L88.26 562.86 L88.78 563.02 L89.3 563.19 L89.82 563.37 L90.34 563.55 L90.86 563.74 L91.38 563.93 L91.9 564.14 L92.42 564.35 L92.94 564.56 L93.46 564.79 L93.98 565.02 L94.5 565.27 L95.02 565.52 L95.54 565.78 L96.06 566.05 L96.58 566.33 L97.1 566.63 L97.62 566.93 L98.14 567.25 L98.66 567.58 L99.18 567.92 L99.7 568.28 L100.22 568.65 L100.74 569.04 L101.26 569.44 L101.78 569.85 L102.3 570.29 L102.82 570.74 L103.34 571.21 L103.86 571.7 L104.38 572.21 L104.9 572.74 L105.42 573.29 L105.94 573.87 L106.46 574.47 L106.98 575.09 L107.5 575.73 L108.02 576.4 L108.54 577.1 L109.06 577.82 L109.58 578.57 L110.1 579.34 L110.62 580.14 L111.14 580.97 L111.66 581.83 L112.18 582.71 L112.7 583.61 L113.22 584.54 L113.74 585.49 L114.26 586.46 L114.78 587.44 L115.3 588.44 L115.82 589.45 L116.34 590.47 L116.86 591.49 L117.38 592.51 L117.9 593.51 L118.42 594.51 L118.94 595.47 L119.46 596.41 L119.98 597.31 L120.5 598.16 L121.02 598.96 L121.54 599.69 L122.06 600.35 L122.58 600.93 L123.1 601.42 L123.62 601.82 L124.14 602.13 L124.66 602.33 L125.18 602.42 L125.7 602.41 L126.22 602.29 L126.74 602.07 L127.26 601.75 L127.78 601.33 L128.3 600.82 L128.82 600.22 L129.34 599.55 L129.86 598.8 L130.38 597.99 L130.9 597.13 L131.42 596.23 L131.94 595.28 L132.46 594.31 L132.98 593.31 L133.5 592.31 L134.02 591.29 L134.54 590.27 L135.06 589.25 L135.58 588.24 L136.1 587.24 L136.62 586.26 L137.14 585.3 L137.66 584.35 L138.18 583.43 L138.7 582.53 L139.22 581.65 L139.74 580.8 L140.26 579.98 L140.78 579.19 L141.3 578.42 L141.82 577.67 L142.34 576.96 L142.86 576.27 L143.38 575.6 L143.9 574.96 L144.42 574.35 L144.94 573.75 L145.46 573.18 L145.98 572.63 L146.5 572.11 L147.02 571.6 L147.54 571.12 L148.06 570.65 L148.58 570.2 L149.1 569.77 L149.62 569.35 L150.14 568.96 L150.66 568.57 L151.18 568.21 L151.7 567.85 L152.22 567.51 L152.74 567.19 L153.26 566.87 L153.78 566.57 L154.3 566.28 L154.82 566 L155.34 565.73 L155.86 565.47 L156.38 565.22 L156.9 564.98 L157.42 564.74 L157.94 564.52 L158.46 564.3 L158.98 564.09 L159.5 563.89 L160.02 563.7 L160.54 563.51 L161.06 563.33 L161.58 563.16 L162.1 562.99 L162.62 562.82 L163.14 562.67 L163.66 562.51 L164.18 562.37 L164.7 562.22 L165.22 562.08 L165.74 561.95 L166.26 561.82 L166.78 561.69 L167.3 561.57" fill="none" stroke="#4da368" stroke-width="1.25" stroke-linejoin="round"/>
<path d="M71.1 584.1 L71.62 584.33 L72.14 584.56 L72.66 584.8 L73.18 585.04 L73.7 585.29 L74.22 585.54 L74.74 585.79 L75.26 586.05 L75.78 586.31 L76.3 586.57 L76.82 586.84 L77.34 587.11 L77.86 587.39 L78.38 587.67 L78.9 587.96 L79.42 588.25 L79.94 588.55 L80.46 588.85 L80.98 589.15 L81.5 589.46 L82.02 589.77 L82.54 590.09 L83.06 590.42 L83.58 590.74 L84.1 591.08 L84.62 591.42 L85.14 591.76 L85.66 592.11 L86.18 592.47 L86.7 592.83 L87.22 593.19 L87.74 593.57 L88.26 593.94 L88.78 594.32 L89.3 594.71 L89.82 595.11 L90.34 595.51 L90.86 595.91 L91.38 596.32 L91.9 596.74 L92.42 597.16 L92.94 597.58 L93.46 598.01 L93.98 598.45 L94.5 598.89 L95.02 599.34 L95.54 599.79 L96.06 600.24 L96.58 600.7 L97.1 601.16 L97.62 601.62 L98.14 602.09 L98.66 602.55 L99.18 603.02 L99.7 603.49 L100.22 603.96 L100.74 604.42 L101.26 604.89 L101.78 605.34 L102.3 605.8 L102.82 606.25 L103.34 606.68 L103.86 607.11 L104.38 607.53 L104.9 607.93 L105.42 608.31 L105.94 608.68 L106.46 609.02 L106.98 609.33 L107.5 609.62 L108.02 609.86 L108.54 610.07 L109.06 610.24 L109.58 610.36 L110.1 610.42 L110.62 610.42 L111.14 610.35 L111.66 610.2 L112.18 609.98 L112.7 609.66 L113.22 609.25 L113.74 608.72 L114.26 608.08 L114.78 607.31 L115.3 606.41 L115.82 605.36 L116.34 604.16 L116.86 602.8 L117.38 601.27 L117.9 599.56 L118.42 597.67 L118.94 595.59 L119.46 593.33 L119.98 590.88 L120.5 588.24 L121.02 585.43 L121.54 582.44 L122.06 579.29 L122.58 575.99 L123.1 572.56 L123.62 569.02 L124.14 565.4 L124.66 561.7 L125.18 557.97 L125.7 554.23 L126.22 550.5 L126.74 546.8 L127.26 543.18 L127.78 539.64 L128.3 536.21 L128.82 532.91 L129.34 529.76 L129.86 526.77 L130.38 523.96 L130.9 521.32 L131.42 518.87 L131.94 516.61 L132.46 514.53 L132.98 512.64 L133.5 510.93 L134.02 509.4 L134.54 508.04 L135.06 506.84 L135.58 505.79 L136.1 504.89 L136.62 504.12 L137.14 503.48 L137.66 502.95 L138.18 502.54 L138.7 502.22 L139.22 502 L139.74 501.85 L140.26 501.78 L140.78 501.78 L141.3 501.84 L141.82 501.96 L142.34 502.13 L142.86 502.34 L143.38 502.58 L143.9 502.87 L144.42 503.18 L144.94 503.52 L145.46 503.89 L145.98 504.27 L146.5 504.67 L147.02 505.09 L147.54 505.52 L148.06 505.95 L148.58 506.4 L149.1 506.86 L149.62 507.31 L150.14 507.78 L150.66 508.24 L151.18 508.71 L151.7 509.18 L152.22 509.65 L152.74 510.11 L153.26 510.58 L153.78 511.04 L154.3 511.5 L154.82 511.96 L155.34 512.41 L155.86 512.86 L156.38 513.31 L156.9 513.75 L157.42 514.19 L157.94 514.62 L158.46 515.04 L158.98 515.46 L159.5 515.88 L160.02 516.29 L160.54 516.69 L161.06 517.09 L161.58 517.49 L162.1 517.88 L162.62 518.26 L163.14 518.63 L163.66 519.01 L164.18 519.37 L164.7 519.73 L165.22 520.09 L165.74 520.44 L166.26 520.78 L166.78 521.12 L167.3 521.46" fill="none" stroke="#8769b3" stroke-width="2.3" stroke-linejoin="round" stroke-linecap="round"/>
<g fill="#fff" stroke="#505050" stroke-width="0.65"><circle cx="71.1" cy="584.41" r="2.3"/><circle cx="71.62" cy="587.14" r="2.3"/><circle cx="72.14" cy="587.25" r="2.3"/><circle cx="72.66" cy="587.79" r="2.3"/><circle cx="73.18" cy="587.3" r="2.3"/><circle cx="73.7" cy="590.19" r="2.3"/><circle cx="74.22" cy="590.49" r="2.3"/><circle cx="74.74" cy="591.25" r="2.3"/><circle cx="75.26" cy="592.23" r="2.3"/><circle cx="75.78" cy="592.58" r="2.3"/><circle cx="76.3" cy="592.49" r="2.3"/><circle cx="76.82" cy="592.33" r="2.3"/><circle cx="77.34" cy="593.25" r="2.3"/><circle cx="77.86" cy="592.13" r="2.3"/><circle cx="78.38" cy="593.04" r="2.3"/><circle cx="78.9" cy="597.23" r="2.3"/><circle cx="79.42" cy="593.66" r="2.3"/><circle cx="79.94" cy="594.19" r="2.3"/><circle cx="80.46" cy="595.13" r="2.3"/><circle cx="80.98" cy="594.45" r="2.3"/><circle cx="81.5" cy="594.38" r="2.3"/><circle cx="82.02" cy="594.79" r="2.3"/><circle cx="82.54" cy="596.43" r="2.3"/><circle cx="83.06" cy="596.08" r="2.3"/><circle cx="83.58" cy="598.43" r="2.3"/><circle cx="84.1" cy="595.87" r="2.3"/><circle cx="84.62" cy="598.44" r="2.3"/><circle cx="85.14" cy="598.55" r="2.3"/><circle cx="85.66" cy="598.55" r="2.3"/><circle cx="86.18" cy="598.54" r="2.3"/><circle cx="86.7" cy="599.41" r="2.3"/><circle cx="87.22" cy="599.14" r="2.3"/><circle cx="87.74" cy="604.76" r="2.3"/><circle cx="88.26" cy="603.31" r="2.3"/><circle cx="88.78" cy="602.93" r="2.3"/><circle cx="89.3" cy="603.4" r="2.3"/><circle cx="89.82" cy="601.3" r="2.3"/><circle cx="90.34" cy="603.89" r="2.3"/><circle cx="90.86" cy="604.3" r="2.3"/><circle cx="91.38" cy="607.42" r="2.3"/><circle cx="91.9" cy="606.21" r="2.3"/><circle cx="92.42" cy="608.47" r="2.3"/><circle cx="92.94" cy="609.86" r="2.3"/><circle cx="93.46" cy="605.63" r="2.3"/><circle cx="93.98" cy="606.07" r="2.3"/><circle cx="94.5" cy="607.59" r="2.3"/><circle cx="95.02" cy="608.47" r="2.3"/><circle cx="95.54" cy="611.43" r="2.3"/><circle cx="96.06" cy="612.77" r="2.3"/><circle cx="96.58" cy="611.82" r="2.3"/><circle cx="97.1" cy="615.16" r="2.3"/><circle cx="97.62" cy="614" r="2.3"/><circle cx="98.14" cy="616.52" r="2.3"/><circle cx="98.66" cy="615.69" r="2.3"/><circle cx="99.18" cy="617.35" r="2.3"/><circle cx="99.7" cy="614.73" r="2.3"/><circle cx="100.22" cy="614.84" r="2.3"/><circle cx="100.74" cy="617.4" r="2.3"/><circle cx="101.26" cy="620.97" r="2.3"/><circle cx="101.78" cy="621.71" r="2.3"/><circle cx="102.3" cy="621.55" r="2.3"/><circle cx="102.82" cy="623.18" r="2.3"/><circle cx="103.34" cy="622.74" r="2.3"/><circle cx="103.86" cy="622.02" r="2.3"/><circle cx="104.38" cy="623.55" r="2.3"/><circle cx="104.9" cy="625.29" r="2.3"/><circle cx="105.42" cy="624.99" r="2.3"/><circle cx="105.94" cy="626.76" r="2.3"/><circle cx="106.46" cy="626.57" r="2.3"/><circle cx="106.98" cy="628.52" r="2.3"/><circle cx="107.5" cy="627.34" r="2.3"/><circle cx="108.02" cy="629.76" r="2.3"/><circle cx="108.54" cy="632.48" r="2.3"/><circle cx="109.06" cy="632.71" r="2.3"/><circle cx="109.58" cy="634.23" r="2.3"/><circle cx="110.1" cy="635.81" r="2.3"/><circle cx="110.62" cy="635.88" r="2.3"/><circle cx="111.14" cy="635.09" r="2.3"/><circle cx="111.66" cy="638.96" r="2.3"/><circle cx="112.18" cy="638.33" r="2.3"/><circle cx="112.7" cy="638.42" r="2.3"/><circle cx="113.22" cy="638.68" r="2.3"/><circle cx="113.74" cy="637.69" r="2.3"/><circle cx="114.26" cy="640.16" r="2.3"/><circle cx="114.78" cy="638.79" r="2.3"/><circle cx="115.3" cy="639.3" r="2.3"/><circle cx="115.82" cy="639" r="2.3"/><circle cx="116.34" cy="639.14" r="2.3"/><circle cx="116.86" cy="639.11" r="2.3"/><circle cx="117.38" cy="639.01" r="2.3"/><circle cx="117.9" cy="637.24" r="2.3"/><circle cx="118.42" cy="633.52" r="2.3"/><circle cx="118.94" cy="632.42" r="2.3"/><circle cx="119.46" cy="631.36" r="2.3"/><circle cx="119.98" cy="630.34" r="2.3"/><circle cx="120.5" cy="630.22" r="2.3"/><circle cx="121.02" cy="627.57" r="2.3"/><circle cx="121.54" cy="623" r="2.3"/><circle cx="122.06" cy="623.9" r="2.3"/><circle cx="122.58" cy="620.01" r="2.3"/><circle cx="123.1" cy="616.24" r="2.3"/><circle cx="123.62" cy="613.68" r="2.3"/><circle cx="124.14" cy="609.95" r="2.3"/><circle cx="124.66" cy="605.44" r="2.3"/><circle cx="125.18" cy="600.17" r="2.3"/><circle cx="125.7" cy="596.83" r="2.3"/><circle cx="126.22" cy="592.71" r="2.3"/><circle cx="126.74" cy="590.44" r="2.3"/><circle cx="127.26" cy="586.64" r="2.3"/><circle cx="127.78" cy="583.64" r="2.3"/><circle cx="128.3" cy="580.01" r="2.3"/><circle cx="128.82" cy="577.29" r="2.3"/><circle cx="129.34" cy="572.51" r="2.3"/><circle cx="129.86" cy="567.26" r="2.3"/><circle cx="130.38" cy="565.04" r="2.3"/><circle cx="130.9" cy="561.69" r="2.3"/><circle cx="131.42" cy="557.9" r="2.3"/><circle cx="131.94" cy="555.29" r="2.3"/><circle cx="132.46" cy="551.3" r="2.3"/><circle cx="132.98" cy="548.86" r="2.3"/><circle cx="133.5" cy="548.28" r="2.3"/><circle cx="134.02" cy="546.61" r="2.3"/><circle cx="134.54" cy="542.3" r="2.3"/><circle cx="135.06" cy="539.25" r="2.3"/><circle cx="135.58" cy="536.13" r="2.3"/><circle cx="136.1" cy="534.85" r="2.3"/><circle cx="136.62" cy="533.47" r="2.3"/><circle cx="137.14" cy="534.45" r="2.3"/><circle cx="137.66" cy="530.26" r="2.3"/><circle cx="138.18" cy="530.69" r="2.3"/><circle cx="138.7" cy="527.71" r="2.3"/><circle cx="139.22" cy="528.66" r="2.3"/><circle cx="139.74" cy="528.05" r="2.3"/><circle cx="140.26" cy="526.25" r="2.3"/><circle cx="140.78" cy="525.78" r="2.3"/><circle cx="141.3" cy="525.6" r="2.3"/><circle cx="141.82" cy="523.09" r="2.3"/><circle cx="142.34" cy="521.89" r="2.3"/><circle cx="142.86" cy="521.47" r="2.3"/><circle cx="143.38" cy="522.06" r="2.3"/><circle cx="143.9" cy="522.86" r="2.3"/><circle cx="144.42" cy="522.67" r="2.3"/><circle cx="144.94" cy="522.54" r="2.3"/><circle cx="145.46" cy="521.72" r="2.3"/><circle cx="145.98" cy="520.18" r="2.3"/><circle cx="146.5" cy="520.63" r="2.3"/><circle cx="147.02" cy="521.65" r="2.3"/><circle cx="147.54" cy="521.92" r="2.3"/><circle cx="148.06" cy="519.51" r="2.3"/><circle cx="148.58" cy="519.81" r="2.3"/><circle cx="149.1" cy="519.89" r="2.3"/><circle cx="149.62" cy="519.9" r="2.3"/><circle cx="150.14" cy="519.53" r="2.3"/><circle cx="150.66" cy="520" r="2.3"/><circle cx="151.18" cy="518.9" r="2.3"/><circle cx="151.7" cy="518.9" r="2.3"/><circle cx="152.22" cy="523.86" r="2.3"/><circle cx="152.74" cy="522.8" r="2.3"/><circle cx="153.26" cy="518.21" r="2.3"/><circle cx="153.78" cy="521.67" r="2.3"/><circle cx="154.3" cy="521.6" r="2.3"/><circle cx="154.82" cy="520.38" r="2.3"/><circle cx="155.34" cy="521.31" r="2.3"/><circle cx="155.86" cy="520.08" r="2.3"/><circle cx="156.38" cy="523.05" r="2.3"/><circle cx="156.9" cy="524.62" r="2.3"/><circle cx="157.42" cy="524.09" r="2.3"/><circle cx="157.94" cy="524.66" r="2.3"/><circle cx="158.46" cy="525.5" r="2.3"/><circle cx="158.98" cy="523.83" r="2.3"/><circle cx="159.5" cy="523.5" r="2.3"/><circle cx="160.02" cy="523.79" r="2.3"/><circle cx="160.54" cy="524.6" r="2.3"/><circle cx="161.06" cy="524.22" r="2.3"/><circle cx="161.58" cy="524.65" r="2.3"/><circle cx="162.1" cy="525.79" r="2.3"/><circle cx="162.62" cy="524.81" r="2.3"/><circle cx="163.14" cy="524.62" r="2.3"/><circle cx="163.66" cy="525.02" r="2.3"/><circle cx="164.18" cy="524.51" r="2.3"/><circle cx="164.7" cy="526.77" r="2.3"/><circle cx="165.22" cy="526.72" r="2.3"/><circle cx="165.74" cy="527.31" r="2.3"/><circle cx="166.26" cy="525.24" r="2.3"/><circle cx="166.78" cy="525.41" r="2.3"/><circle cx="167.3" cy="523.45" r="2.3"/></g>
<path d="M71.1 587.52 L71.62 587.81 L72.14 588.11 L72.66 588.42 L73.18 588.72 L73.7 589.04 L74.22 589.36 L74.74 589.68 L75.26 590.01 L75.78 590.35 L76.3 590.69 L76.82 591.04 L77.34 591.4 L77.86 591.76 L78.38 592.13 L78.9 592.51 L79.42 592.89 L79.94 593.28 L80.46 593.68 L80.98 594.09 L81.5 594.5 L82.02 594.93 L82.54 595.36 L83.06 595.79 L83.58 596.24 L84.1 596.7 L84.62 597.16 L85.14 597.64 L85.66 598.12 L86.18 598.62 L86.7 599.12 L87.22 599.64 L87.74 600.16 L88.26 600.7 L88.78 601.24 L89.3 601.8 L89.82 602.37 L90.34 602.95 L90.86 603.55 L91.38 604.15 L91.9 604.77 L92.42 605.4 L92.94 606.05 L93.46 606.7 L93.98 607.37 L94.5 608.06 L95.02 608.75 L95.54 609.47 L96.06 610.19 L96.58 610.93 L97.1 611.68 L97.62 612.45 L98.14 613.24 L98.66 614.03 L99.18 614.84 L99.7 615.67 L100.22 616.51 L100.74 617.36 L101.26 618.22 L101.78 619.1 L102.3 619.99 L102.82 620.89 L103.34 621.8 L103.86 622.72 L104.38 623.64 L104.9 624.57 L105.42 625.51 L105.94 626.45 L106.46 627.39 L106.98 628.32 L107.5 629.25 L108.02 630.17 L108.54 631.07 L109.06 631.96 L109.58 632.83 L110.1 633.66 L110.62 634.46 L111.14 635.22 L111.66 635.93 L112.18 636.58 L112.7 637.17 L113.22 637.68 L113.74 638.11 L114.26 638.44 L114.78 638.66 L115.3 638.75 L115.82 638.72 L116.34 638.53 L116.86 638.19 L117.38 637.68 L117.9 636.97 L118.42 636.08 L118.94 634.97 L119.46 633.64 L119.98 632.09 L120.5 630.3 L121.02 628.28 L121.54 626.02 L122.06 623.54 L122.58 620.82 L123.1 617.88 L123.62 614.75 L124.14 611.42 L124.66 607.93 L125.18 604.29 L125.7 600.54 L126.22 596.69 L126.74 592.78 L127.26 588.83 L127.78 584.87 L128.3 580.93 L128.82 577.03 L129.34 573.21 L129.86 569.47 L130.38 565.85 L130.9 562.35 L131.42 558.99 L131.94 555.79 L132.46 552.74 L132.98 549.85 L133.5 547.14 L134.02 544.59 L134.54 542.21 L135.06 539.99 L135.58 537.93 L136.1 536.03 L136.62 534.28 L137.14 532.67 L137.66 531.2 L138.18 529.87 L138.7 528.65 L139.22 527.55 L139.74 526.56 L140.26 525.67 L140.78 524.87 L141.3 524.16 L141.82 523.53 L142.34 522.98 L142.86 522.5 L143.38 522.09 L143.9 521.73 L144.42 521.43 L144.94 521.17 L145.46 520.97 L145.98 520.8 L146.5 520.68 L147.02 520.59 L147.54 520.53 L148.06 520.5 L148.58 520.5 L149.1 520.52 L149.62 520.57 L150.14 520.63 L150.66 520.72 L151.18 520.82 L151.7 520.93 L152.22 521.06 L152.74 521.2 L153.26 521.35 L153.78 521.51 L154.3 521.68 L154.82 521.86 L155.34 522.04 L155.86 522.23 L156.38 522.43 L156.9 522.63 L157.42 522.83 L157.94 523.04 L158.46 523.25 L158.98 523.46 L159.5 523.67 L160.02 523.89 L160.54 524.11 L161.06 524.32 L161.58 524.54 L162.1 524.76 L162.62 524.98 L163.14 525.2 L163.66 525.42 L164.18 525.64 L164.7 525.85 L165.22 526.07 L165.74 526.29 L166.26 526.5 L166.78 526.72 L167.3 526.93" fill="none" stroke="#1c1c1c" stroke-width="1.3" stroke-linejoin="round"/>
<path d="M177.7 550.31 L178.22 550.18 L178.74 550.05 L179.26 549.92 L179.78 549.78 L180.3 549.64 L180.82 549.49 L181.34 549.34 L181.86 549.18 L182.38 549.02 L182.9 548.85 L183.42 548.67 L183.94 548.49 L184.46 548.31 L184.98 548.11 L185.5 547.92 L186.02 547.71 L186.54 547.5 L187.06 547.28 L187.58 547.05 L188.1 546.81 L188.62 546.56 L189.14 546.31 L189.66 546.04 L190.18 545.77 L190.7 545.48 L191.22 545.19 L191.74 544.88 L192.26 544.56 L192.78 544.23 L193.3 543.89 L193.82 543.53 L194.34 543.16 L194.86 542.78 L195.38 542.38 L195.9 541.96 L196.42 541.53 L196.94 541.08 L197.46 540.62 L197.98 540.13 L198.5 539.63 L199.02 539.1 L199.54 538.56 L200.06 537.99 L200.58 537.41 L201.1 536.8 L201.62 536.16 L202.14 535.51 L202.66 534.82 L203.18 534.12 L203.7 533.39 L204.22 532.63 L204.74 531.85 L205.26 531.04 L205.78 530.21 L206.3 529.35 L206.82 528.47 L207.34 527.56 L207.86 526.63 L208.38 525.69 L208.9 524.72 L209.42 523.74 L209.94 522.74 L210.46 521.74 L210.98 520.72 L211.5 519.71 L212.02 518.7 L212.54 517.7 L213.06 516.72 L213.58 515.76 L214.1 514.82 L214.62 513.93 L215.14 513.07 L215.66 512.27 L216.18 511.53 L216.7 510.86 L217.22 510.26 L217.74 509.74 L218.26 509.31 L218.78 508.97 L219.3 508.72 L219.82 508.58 L220.34 508.54 L220.86 508.6 L221.38 508.76 L221.9 509.03 L222.42 509.38 L222.94 509.83 L223.46 510.37 L223.98 510.98 L224.5 511.67 L225.02 512.43 L225.54 513.24 L226.06 514.1 L226.58 515.01 L227.1 515.95 L227.62 516.91 L228.14 517.9 L228.66 518.9 L229.18 519.91 L229.7 520.93 L230.22 521.94 L230.74 522.94 L231.26 523.93 L231.78 524.91 L232.3 525.88 L232.82 526.82 L233.34 527.74 L233.86 528.64 L234.38 529.52 L234.9 530.38 L235.42 531.2 L235.94 532.01 L236.46 532.78 L236.98 533.53 L237.5 534.26 L238.02 534.96 L238.54 535.64 L239.06 536.29 L239.58 536.92 L240.1 537.53 L240.62 538.11 L241.14 538.67 L241.66 539.21 L242.18 539.73 L242.7 540.23 L243.22 540.71 L243.74 541.17 L244.26 541.62 L244.78 542.05 L245.3 542.46 L245.82 542.86 L246.34 543.24 L246.86 543.61 L247.38 543.96 L247.9 544.3 L248.42 544.63 L248.94 544.95 L249.46 545.25 L249.98 545.54 L250.5 545.83 L251.02 546.1 L251.54 546.36 L252.06 546.61 L252.58 546.86 L253.1 547.09 L253.62 547.32 L254.14 547.54 L254.66 547.75 L255.18 547.96 L255.7 548.15 L256.22 548.35 L256.74 548.53 L257.26 548.71 L257.78 548.88 L258.3 549.05 L258.82 549.21 L259.34 549.37 L259.86 549.52 L260.38 549.66 L260.9 549.81 L261.42 549.94 L261.94 550.08 L262.46 550.21 L262.98 550.33 L263.5 550.45 L264.02 550.57 L264.54 550.69 L265.06 550.8 L265.58 550.91 L266.1 551.01 L266.62 551.11 L267.14 551.21 L267.66 551.31 L268.18 551.4 L268.7 551.49 L269.22 551.58 L269.74 551.66 L270.26 551.75 L270.78 551.83 L271.3 551.91" fill="none" stroke="#4da368" stroke-width="1.25" stroke-linejoin="round"/>
<path d="M177.7 591.97 L178.22 592.3 L178.74 592.64 L179.26 592.98 L179.78 593.32 L180.3 593.67 L180.82 594.02 L181.34 594.38 L181.86 594.75 L182.38 595.12 L182.9 595.49 L183.42 595.87 L183.94 596.25 L184.46 596.64 L184.98 597.04 L185.5 597.43 L186.02 597.84 L186.54 598.24 L187.06 598.66 L187.58 599.07 L188.1 599.49 L188.62 599.92 L189.14 600.35 L189.66 600.78 L190.18 601.22 L190.7 601.66 L191.22 602.1 L191.74 602.54 L192.26 602.99 L192.78 603.43 L193.3 603.88 L193.82 604.33 L194.34 604.77 L194.86 605.21 L195.38 605.66 L195.9 606.09 L196.42 606.52 L196.94 606.95 L197.46 607.37 L197.98 607.78 L198.5 608.18 L199.02 608.56 L199.54 608.93 L200.06 609.28 L200.58 609.61 L201.1 609.92 L201.62 610.2 L202.14 610.46 L202.66 610.68 L203.18 610.86 L203.7 611 L204.22 611.1 L204.74 611.14 L205.26 611.13 L205.78 611.05 L206.3 610.91 L206.82 610.69 L207.34 610.4 L207.86 610.01 L208.38 609.53 L208.9 608.94 L209.42 608.24 L209.94 607.43 L210.46 606.48 L210.98 605.41 L211.5 604.19 L212.02 602.82 L212.54 601.3 L213.06 599.61 L213.58 597.76 L214.1 595.75 L214.62 593.57 L215.14 591.21 L215.66 588.69 L216.18 586.01 L216.7 583.18 L217.22 580.2 L217.74 577.08 L218.26 573.84 L218.78 570.5 L219.3 567.07 L219.82 563.57 L220.34 560.03 L220.86 556.46 L221.38 552.89 L221.9 549.33 L222.42 545.83 L222.94 542.38 L223.46 539.02 L223.98 535.76 L224.5 532.62 L225.02 529.61 L225.54 526.74 L226.06 524.03 L226.58 521.48 L227.1 519.09 L227.62 516.87 L228.14 514.83 L228.66 512.94 L229.18 511.23 L229.7 509.67 L230.22 508.28 L230.74 507.03 L231.26 505.92 L231.78 504.95 L232.3 504.11 L232.82 503.39 L233.34 502.78 L233.86 502.28 L234.38 501.87 L234.9 501.56 L235.42 501.33 L235.94 501.17 L236.46 501.08 L236.98 501.06 L237.5 501.09 L238.02 501.18 L238.54 501.31 L239.06 501.48 L239.58 501.7 L240.1 501.94 L240.62 502.22 L241.14 502.52 L241.66 502.85 L242.18 503.2 L242.7 503.57 L243.22 503.95 L243.74 504.34 L244.26 504.75 L244.78 505.16 L245.3 505.59 L245.82 506.02 L246.34 506.46 L246.86 506.9 L247.38 507.34 L247.9 507.79 L248.42 508.23 L248.94 508.68 L249.46 509.13 L249.98 509.57 L250.5 510.01 L251.02 510.46 L251.54 510.9 L252.06 511.33 L252.58 511.76 L253.1 512.19 L253.62 512.62 L254.14 513.04 L254.66 513.46 L255.18 513.87 L255.7 514.28 L256.22 514.69 L256.74 515.09 L257.26 515.48 L257.78 515.87 L258.3 516.25 L258.82 516.63 L259.34 517.01 L259.86 517.38 L260.38 517.74 L260.9 518.1 L261.42 518.46 L261.94 518.81 L262.46 519.15 L262.98 519.49 L263.5 519.83 L264.02 520.16 L264.54 520.49 L265.06 520.81 L265.58 521.12 L266.1 521.44 L266.62 521.74 L267.14 522.05 L267.66 522.35 L268.18 522.64 L268.7 522.93 L269.22 523.22 L269.74 523.5 L270.26 523.78 L270.78 524.05 L271.3 524.32" fill="none" stroke="#8769b3" stroke-width="2.3" stroke-linejoin="round" stroke-linecap="round"/>
<g fill="#fff" stroke="#505050" stroke-width="0.65"><circle cx="177.7" cy="583.92" r="2.3"/><circle cx="178.22" cy="585.79" r="2.3"/><circle cx="178.74" cy="587.86" r="2.3"/><circle cx="179.26" cy="586.74" r="2.3"/><circle cx="179.78" cy="587.38" r="2.3"/><circle cx="180.3" cy="587.62" r="2.3"/><circle cx="180.82" cy="589.14" r="2.3"/><circle cx="181.34" cy="587.62" r="2.3"/><circle cx="181.86" cy="587.56" r="2.3"/><circle cx="182.38" cy="587.32" r="2.3"/><circle cx="182.9" cy="587.44" r="2.3"/><circle cx="183.42" cy="589.34" r="2.3"/><circle cx="183.94" cy="592.31" r="2.3"/><circle cx="184.46" cy="591.07" r="2.3"/><circle cx="184.98" cy="591.07" r="2.3"/><circle cx="185.5" cy="591.02" r="2.3"/><circle cx="186.02" cy="588.95" r="2.3"/><circle cx="186.54" cy="589.54" r="2.3"/><circle cx="187.06" cy="587.61" r="2.3"/><circle cx="187.58" cy="588.65" r="2.3"/><circle cx="188.1" cy="588.53" r="2.3"/><circle cx="188.62" cy="588.82" r="2.3"/><circle cx="189.14" cy="588.62" r="2.3"/><circle cx="189.66" cy="591.56" r="2.3"/><circle cx="190.18" cy="589.74" r="2.3"/><circle cx="190.7" cy="590.31" r="2.3"/><circle cx="191.22" cy="592.22" r="2.3"/><circle cx="191.74" cy="590.96" r="2.3"/><circle cx="192.26" cy="590.77" r="2.3"/><circle cx="192.78" cy="589.38" r="2.3"/><circle cx="193.3" cy="589.53" r="2.3"/><circle cx="193.82" cy="590.16" r="2.3"/><circle cx="194.34" cy="593.38" r="2.3"/><circle cx="194.86" cy="590.26" r="2.3"/><circle cx="195.38" cy="588.99" r="2.3"/><circle cx="195.9" cy="589.37" r="2.3"/><circle cx="196.42" cy="590" r="2.3"/><circle cx="196.94" cy="589.21" r="2.3"/><circle cx="197.46" cy="591.77" r="2.3"/><circle cx="197.98" cy="590.74" r="2.3"/><circle cx="198.5" cy="591.14" r="2.3"/><circle cx="199.02" cy="592.72" r="2.3"/><circle cx="199.54" cy="591.44" r="2.3"/><circle cx="200.06" cy="590.69" r="2.3"/><circle cx="200.58" cy="588.23" r="2.3"/><circle cx="201.1" cy="587.92" r="2.3"/><circle cx="201.62" cy="591.22" r="2.3"/><circle cx="202.14" cy="593.15" r="2.3"/><circle cx="202.66" cy="591.16" r="2.3"/><circle cx="203.18" cy="590.06" r="2.3"/><circle cx="203.7" cy="590.22" r="2.3"/><circle cx="204.22" cy="590.68" r="2.3"/><circle cx="204.74" cy="588.7" r="2.3"/><circle cx="205.26" cy="588.63" r="2.3"/><circle cx="205.78" cy="587.44" r="2.3"/><circle cx="206.3" cy="584.06" r="2.3"/><circle cx="206.82" cy="582.67" r="2.3"/><circle cx="207.34" cy="582.74" r="2.3"/><circle cx="207.86" cy="582.6" r="2.3"/><circle cx="208.38" cy="580.41" r="2.3"/><circle cx="208.9" cy="575.72" r="2.3"/><circle cx="209.42" cy="575.69" r="2.3"/><circle cx="209.94" cy="571.49" r="2.3"/><circle cx="210.46" cy="571.96" r="2.3"/><circle cx="210.98" cy="570.25" r="2.3"/><circle cx="211.5" cy="566.91" r="2.3"/><circle cx="212.02" cy="566.09" r="2.3"/><circle cx="212.54" cy="563.15" r="2.3"/><circle cx="213.06" cy="562.3" r="2.3"/><circle cx="213.58" cy="557.51" r="2.3"/><circle cx="214.1" cy="552.85" r="2.3"/><circle cx="214.62" cy="551.52" r="2.3"/><circle cx="215.14" cy="547.98" r="2.3"/><circle cx="215.66" cy="545.35" r="2.3"/><circle cx="216.18" cy="544.78" r="2.3"/><circle cx="216.7" cy="535.66" r="2.3"/><circle cx="217.22" cy="532.32" r="2.3"/><circle cx="217.74" cy="528.51" r="2.3"/><circle cx="218.26" cy="525.39" r="2.3"/><circle cx="218.78" cy="522.29" r="2.3"/><circle cx="219.3" cy="515.75" r="2.3"/><circle cx="219.82" cy="516.7" r="2.3"/><circle cx="220.34" cy="513.24" r="2.3"/><circle cx="220.86" cy="509.95" r="2.3"/><circle cx="221.38" cy="506.35" r="2.3"/><circle cx="221.9" cy="501.66" r="2.3"/><circle cx="222.42" cy="499.85" r="2.3"/><circle cx="222.94" cy="498.39" r="2.3"/><circle cx="223.46" cy="496.05" r="2.3"/><circle cx="223.98" cy="491.37" r="2.3"/><circle cx="224.5" cy="487.19" r="2.3"/><circle cx="225.02" cy="484.27" r="2.3"/><circle cx="225.54" cy="480.76" r="2.3"/><circle cx="226.06" cy="481.22" r="2.3"/><circle cx="226.58" cy="478.55" r="2.3"/><circle cx="227.1" cy="477.04" r="2.3"/><circle cx="227.62" cy="476.98" r="2.3"/><circle cx="228.14" cy="477.35" r="2.3"/><circle cx="228.66" cy="474.85" r="2.3"/><circle cx="229.18" cy="475.57" r="2.3"/><circle cx="229.7" cy="475.19" r="2.3"/><circle cx="230.22" cy="475.85" r="2.3"/><circle cx="230.74" cy="472.23" r="2.3"/><circle cx="231.26" cy="473.01" r="2.3"/><circle cx="231.78" cy="474.11" r="2.3"/><circle cx="232.3" cy="474.42" r="2.3"/><circle cx="232.82" cy="474.7" r="2.3"/><circle cx="233.34" cy="474.6" r="2.3"/><circle cx="233.86" cy="477.36" r="2.3"/><circle cx="234.38" cy="478.23" r="2.3"/><circle cx="234.9" cy="476.58" r="2.3"/><circle cx="235.42" cy="475.25" r="2.3"/><circle cx="235.94" cy="477.94" r="2.3"/><circle cx="236.46" cy="478.04" r="2.3"/><circle cx="236.98" cy="479.46" r="2.3"/><circle cx="237.5" cy="483" r="2.3"/><circle cx="238.02" cy="482.36" r="2.3"/><circle cx="238.54" cy="483.57" r="2.3"/><circle cx="239.06" cy="481.79" r="2.3"/><circle cx="239.58" cy="482.88" r="2.3"/><circle cx="240.1" cy="483.61" r="2.3"/><circle cx="240.62" cy="486.45" r="2.3"/><circle cx="241.14" cy="486" r="2.3"/><circle cx="241.66" cy="489.21" r="2.3"/><circle cx="242.18" cy="488.14" r="2.3"/><circle cx="242.7" cy="486.38" r="2.3"/><circle cx="243.22" cy="489.64" r="2.3"/><circle cx="243.74" cy="488.74" r="2.3"/><circle cx="244.26" cy="487.91" r="2.3"/><circle cx="244.78" cy="490.23" r="2.3"/><circle cx="245.3" cy="489.91" r="2.3"/><circle cx="245.82" cy="491.64" r="2.3"/><circle cx="246.34" cy="493.74" r="2.3"/><circle cx="246.86" cy="497.36" r="2.3"/><circle cx="247.38" cy="498.23" r="2.3"/><circle cx="247.9" cy="499.64" r="2.3"/><circle cx="248.42" cy="495.17" r="2.3"/><circle cx="248.94" cy="496.36" r="2.3"/><circle cx="249.46" cy="497.94" r="2.3"/><circle cx="249.98" cy="500.79" r="2.3"/><circle cx="250.5" cy="498.16" r="2.3"/><circle cx="251.02" cy="501.33" r="2.3"/><circle cx="251.54" cy="499.47" r="2.3"/><circle cx="252.06" cy="499.44" r="2.3"/><circle cx="252.58" cy="501.22" r="2.3"/><circle cx="253.1" cy="503.49" r="2.3"/><circle cx="253.62" cy="504.06" r="2.3"/><circle cx="254.14" cy="506.5" r="2.3"/><circle cx="254.66" cy="505.19" r="2.3"/><circle cx="255.18" cy="503.35" r="2.3"/><circle cx="255.7" cy="503.87" r="2.3"/><circle cx="256.22" cy="504.19" r="2.3"/><circle cx="256.74" cy="507.15" r="2.3"/><circle cx="257.26" cy="507.47" r="2.3"/><circle cx="257.78" cy="509.81" r="2.3"/><circle cx="258.3" cy="510.43" r="2.3"/><circle cx="258.82" cy="509.31" r="2.3"/><circle cx="259.34" cy="506.46" r="2.3"/><circle cx="259.86" cy="508.79" r="2.3"/><circle cx="260.38" cy="510.26" r="2.3"/><circle cx="260.9" cy="514.01" r="2.3"/><circle cx="261.42" cy="513.15" r="2.3"/><circle cx="261.94" cy="514.52" r="2.3"/><circle cx="262.46" cy="516.15" r="2.3"/><circle cx="262.98" cy="517.31" r="2.3"/><circle cx="263.5" cy="515.77" r="2.3"/><circle cx="264.02" cy="516" r="2.3"/><circle cx="264.54" cy="514.78" r="2.3"/><circle cx="265.06" cy="515.7" r="2.3"/><circle cx="265.58" cy="516.03" r="2.3"/><circle cx="266.1" cy="514.29" r="2.3"/><circle cx="266.62" cy="514.57" r="2.3"/><circle cx="267.14" cy="514.96" r="2.3"/><circle cx="267.66" cy="514.33" r="2.3"/><circle cx="268.18" cy="516.02" r="2.3"/><circle cx="268.7" cy="518.79" r="2.3"/><circle cx="269.22" cy="520.08" r="2.3"/><circle cx="269.74" cy="522" r="2.3"/><circle cx="270.26" cy="520.39" r="2.3"/><circle cx="270.78" cy="520.84" r="2.3"/><circle cx="271.3" cy="519.93" r="2.3"/></g>
<path d="M177.7 586.18 L178.22 586.38 L178.74 586.59 L179.26 586.79 L179.78 587 L180.3 587.21 L180.82 587.41 L181.34 587.62 L181.86 587.83 L182.38 588.03 L182.9 588.24 L183.42 588.44 L183.94 588.65 L184.46 588.85 L184.98 589.05 L185.5 589.25 L186.02 589.45 L186.54 589.64 L187.06 589.83 L187.58 590.02 L188.1 590.2 L188.62 590.38 L189.14 590.56 L189.66 590.72 L190.18 590.89 L190.7 591.04 L191.22 591.19 L191.74 591.32 L192.26 591.45 L192.78 591.57 L193.3 591.67 L193.82 591.76 L194.34 591.84 L194.86 591.89 L195.38 591.94 L195.9 591.96 L196.42 591.96 L196.94 591.93 L197.46 591.89 L197.98 591.81 L198.5 591.7 L199.02 591.56 L199.54 591.39 L200.06 591.17 L200.58 590.92 L201.1 590.62 L201.62 590.27 L202.14 589.86 L202.66 589.4 L203.18 588.88 L203.7 588.29 L204.22 587.63 L204.74 586.89 L205.26 586.07 L205.78 585.16 L206.3 584.16 L206.82 583.06 L207.34 581.86 L207.86 580.54 L208.38 579.11 L208.9 577.56 L209.42 575.88 L209.94 574.07 L210.46 572.12 L210.98 570.03 L211.5 567.8 L212.02 565.42 L212.54 562.9 L213.06 560.23 L213.58 557.42 L214.1 554.47 L214.62 551.39 L215.14 548.19 L215.66 544.87 L216.18 541.44 L216.7 537.93 L217.22 534.35 L217.74 530.72 L218.26 527.05 L218.78 523.37 L219.3 519.69 L219.82 516.05 L220.34 512.47 L220.86 508.96 L221.38 505.55 L221.9 502.26 L222.42 499.11 L222.94 496.11 L223.46 493.29 L223.98 490.64 L224.5 488.19 L225.02 485.93 L225.54 483.88 L226.06 482.03 L226.58 480.39 L227.1 478.94 L227.62 477.69 L228.14 476.63 L228.66 475.75 L229.18 475.04 L229.7 474.5 L230.22 474.11 L230.74 473.87 L231.26 473.76 L231.78 473.77 L232.3 473.89 L232.82 474.11 L233.34 474.43 L233.86 474.82 L234.38 475.3 L234.9 475.83 L235.42 476.43 L235.94 477.07 L236.46 477.76 L236.98 478.49 L237.5 479.25 L238.02 480.04 L238.54 480.85 L239.06 481.68 L239.58 482.52 L240.1 483.37 L240.62 484.23 L241.14 485.09 L241.66 485.96 L242.18 486.83 L242.7 487.7 L243.22 488.56 L243.74 489.42 L244.26 490.27 L244.78 491.11 L245.3 491.95 L245.82 492.78 L246.34 493.6 L246.86 494.4 L247.38 495.2 L247.9 495.99 L248.42 496.76 L248.94 497.52 L249.46 498.27 L249.98 499.01 L250.5 499.74 L251.02 500.45 L251.54 501.16 L252.06 501.84 L252.58 502.52 L253.1 503.19 L253.62 503.84 L254.14 504.48 L254.66 505.11 L255.18 505.73 L255.7 506.34 L256.22 506.93 L256.74 507.52 L257.26 508.09 L257.78 508.65 L258.3 509.2 L258.82 509.74 L259.34 510.28 L259.86 510.8 L260.38 511.31 L260.9 511.81 L261.42 512.3 L261.94 512.79 L262.46 513.26 L262.98 513.73 L263.5 514.18 L264.02 514.63 L264.54 515.07 L265.06 515.51 L265.58 515.93 L266.1 516.35 L266.62 516.76 L267.14 517.16 L267.66 517.55 L268.18 517.94 L268.7 518.32 L269.22 518.7 L269.74 519.06 L270.26 519.42 L270.78 519.78 L271.3 520.13" fill="none" stroke="#1c1c1c" stroke-width="1.3" stroke-linejoin="round"/>
<path d="M42.5 463H302.5" fill="none" stroke="#9c9c9c" stroke-width="1.1"/>
<path d="M42.5 462.5V648.8H302.5V462.5" fill="none" stroke="#777" stroke-width="1"/>
<path d="M68.5 648.8v-6M120.5 648.8v-6M172.5 648.8v-6M224.5 648.8v-6M276.5 648.8v-6M94.5 648.8v-3.3M146.5 648.8v-3.3M198.5 648.8v-3.3M250.5 648.8v-3.3M42.5 638.1h6M42.5 556.1h6M42.5 474.1h6M42.5 597.1h3.3M42.5 515.1h3.3" stroke="#8a8a8a" stroke-width="0.9" fill="none"/>
<text x="59" y="661.7" font-size="9.6" fill="#2a2a2a" textLength="18.4" lengthAdjust="spacingAndGlyphs">−0.2</text>
<text x="111.9" y="661.7" font-size="9.6" fill="#2a2a2a" textLength="16.6" lengthAdjust="spacingAndGlyphs">−0.1</text>
<text x="169.6" y="661.7" font-size="9.6" fill="#2a2a2a" textLength="5.8" lengthAdjust="spacingAndGlyphs">0</text>
<text x="218.45" y="661.7" font-size="9.6" fill="#2a2a2a" textLength="12.1" lengthAdjust="spacingAndGlyphs">0.1</text>
<text x="269.55" y="661.7" font-size="9.6" fill="#2a2a2a" textLength="13.9" lengthAdjust="spacingAndGlyphs">0.2</text>
<text x="31.4" y="477.5" font-size="9.6" fill="#2a2a2a" textLength="5.8" lengthAdjust="spacingAndGlyphs">4</text>
<text x="31.4" y="559.5" font-size="9.6" fill="#2a2a2a" textLength="5.8" lengthAdjust="spacingAndGlyphs">0</text>
<text x="26.9" y="641.5" font-size="9.6" fill="#2a2a2a" textLength="10.3" lengthAdjust="spacingAndGlyphs">−4</text>
<text x="154.1" y="678.8" font-size="11.3" fill="#2a2a2a" textLength="36.6" lengthAdjust="spacingAndGlyphs"><tspan font-style="italic">μ</tspan><tspan font-size="8.2" dy="3.2">0</tspan><tspan dy="-3.2" font-style="italic">H</tspan> (T)</text>
<text transform="translate(13.9 577.8) rotate(-90)" font-size="11.3" fill="#2a2a2a" textLength="43.4" lengthAdjust="spacingAndGlyphs"><tspan font-style="italic">V</tspan><tspan font-size="8.2" dy="3.2">mix</tspan><tspan dy="-3.2"> (μV)</tspan></text>
<path d="M56.1 482.6h10.9" stroke="#1c1c1c" stroke-width="1.1"/>
<path d="M56.1 502h10.9" stroke="#8769b3" stroke-width="2.3"/>
<path d="M56.1 519.7h10.9" stroke="#4da368" stroke-width="1.25"/>
<g font-size="11.3" fill="#2a2a2a">
<text x="71.9" y="486.5" textLength="58.1" lengthAdjust="spacingAndGlyphs"><tspan font-style="italic">V</tspan><tspan font-size="8.2" dy="3.2">S</tspan><tspan font-style="italic" dy="-3.2">F</tspan><tspan font-size="8.2" dy="3.2">S</tspan><tspan dy="-3.2"> + </tspan><tspan font-style="italic">V</tspan><tspan font-size="8.2" dy="3.2">A</tspan><tspan font-style="italic" dy="-3.2">F</tspan><tspan font-size="8.2" dy="3.2">A</tspan></text>
<text x="71.9" y="505.9" textLength="24" lengthAdjust="spacingAndGlyphs"><tspan font-style="italic">V</tspan><tspan font-size="8.2" dy="3.2">A</tspan><tspan font-style="italic" dy="-3.2">F</tspan><tspan font-size="8.2" dy="3.2">A</tspan></text>
<text x="71.9" y="523.6" textLength="23.2" lengthAdjust="spacingAndGlyphs"><tspan font-style="italic">V</tspan><tspan font-size="8.2" dy="3.2">S</tspan><tspan font-style="italic" dy="-3.2">F</tspan><tspan font-size="8.2" dy="3.2">S</tspan></text>
</g>
<text x="260.7" y="632.9" font-size="11.6" fill="#2a2a2a" textLength="30.4" lengthAdjust="spacingAndGlyphs"><tspan font-style="italic">b</tspan>-axis</text>
<text x="0.3" y="477.5" font-size="15.6" font-weight="bold" fill="#151515" stroke="#151515" stroke-width="0.7" stroke-linejoin="round" textLength="5.62" lengthAdjust="spacingAndGlyphs">f</text>
</g>
<defs>
<linearGradient id="bgR" gradientUnits="userSpaceOnUse" x1="412.6" y1="0" x2="614.6" y2="0">
<stop offset="0" stop-color="#fdeaef"/><stop offset="0.065" stop-color="#fef2f5"/><stop offset="0.13" stop-color="#ffffff"/><stop offset="0.18" stop-color="#ffffff"/><stop offset="0.215" stop-color="#f2f5fc"/><stop offset="0.245" stop-color="#e9edf9"/><stop offset="1" stop-color="#e9edf9"/>
</linearGradient>
<radialGradient id="ball" cx="0.34" cy="0.3" r="0.8"><stop offset="0" stop-color="#cfe0f8"/><stop offset="0.12" stop-color="#6f9ade"/><stop offset="0.28" stop-color="#2458b2"/><stop offset="0.75" stop-color="#1b4aa0"/><stop offset="1" stop-color="#153c88"/></radialGradient>
</defs>
<rect x="412.6" y="223.2" width="202.0" height="425.00000000000006" fill="url(#bgR)"/>
<path d="M429.4 256.6L441 347.6 C441.87 347.52 444.21 348.15 446.2 347.1 C448.19 346.05 450.12 342.92 452.92 341.3 C455.72 339.68 458.52 339 463 337.4 C467.48 335.8 474.2 334.68 479.8 331.7 C485.4 328.72 491 322.98 496.6 319.5 C502.2 316.02 507.8 311.4 513.4 310.8 C519 310.2 524.6 313.8 530.2 315.9 C535.8 318 541.4 321.07 547 323.4 C552.6 325.73 558.2 328.17 563.8 329.9 C569.4 331.63 575 331.83 580.6 333.8 C586.2 335.77 594.6 340.38 597.4 341.7" fill="none" stroke="#e3a18f" stroke-width="5.3" stroke-linejoin="round" stroke-linecap="round"/>
<path d="M429.4 250.8V262.4M427.1 250.8h4.6M427.1 262.4h4.6M439.48 344.4V358.4M437.18 344.4h4.6M437.18 358.4h4.6M446.2 341.6V352.6M443.9 341.6h4.6M443.9 352.6h4.6M452.92 334.8V347.8M450.62 334.8h4.6M450.62 347.8h4.6M463 332.4V342.4M460.7 332.4h4.6M460.7 342.4h4.6M479.8 325.7V337.7M477.5 325.7h4.6M477.5 337.7h4.6M496.6 313.5V325.5M494.3 313.5h4.6M494.3 325.5h4.6M513.4 303.3V318.3M511.1 303.3h4.6M511.1 318.3h4.6M530.2 309.4V322.4M527.9 309.4h4.6M527.9 322.4h4.6M547 317.4V329.4M544.7 317.4h4.6M544.7 329.4h4.6M563.8 324.4V335.4M561.5 324.4h4.6M561.5 335.4h4.6M580.6 327.3V340.3M578.3 327.3h4.6M578.3 340.3h4.6M597.4 335.7V347.7M595.1 335.7h4.6M595.1 347.7h4.6" stroke="#2a62b4" stroke-width="1" fill="none"/>
<rect x="427.3" y="254.5" width="4.2" height="4.2" fill="#f0b7a2" stroke="#5a46a0" stroke-width="1"/>
<rect x="437.38" y="349.3" width="4.2" height="4.2" fill="#fff" stroke="#2a62b4" stroke-width="1"/>
<rect x="444.1" y="345" width="4.2" height="4.2" fill="#f0b7a2" stroke="#5a46a0" stroke-width="1"/>
<rect x="450.82" y="339.2" width="4.2" height="4.2" fill="#f0b7a2" stroke="#5a46a0" stroke-width="1"/>
<rect x="460.9" y="335.3" width="4.2" height="4.2" fill="#f0b7a2" stroke="#5a46a0" stroke-width="1"/>
<rect x="477.7" y="329.6" width="4.2" height="4.2" fill="#f0b7a2" stroke="#5a46a0" stroke-width="1"/>
<rect x="494.5" y="317.4" width="4.2" height="4.2" fill="#f0b7a2" stroke="#5a46a0" stroke-width="1"/>
<rect x="511.3" y="308.7" width="4.2" height="4.2" fill="#f0b7a2" stroke="#5a46a0" stroke-width="1"/>
<rect x="528.1" y="313.8" width="4.2" height="4.2" fill="#f0b7a2" stroke="#5a46a0" stroke-width="1"/>
<rect x="544.9" y="321.3" width="4.2" height="4.2" fill="#f0b7a2" stroke="#5a46a0" stroke-width="1"/>
<rect x="561.7" y="327.8" width="4.2" height="4.2" fill="#f0b7a2" stroke="#5a46a0" stroke-width="1"/>
<rect x="578.5" y="331.7" width="4.2" height="4.2" fill="#f0b7a2" stroke="#5a46a0" stroke-width="1"/>
<rect x="595.3" y="339.6" width="4.2" height="4.2" fill="#f0b7a2" stroke="#5a46a0" stroke-width="1"/>
<path d="M429.4 486.7 Q433.5 440 441.6 396 C442.37 396.1 444.31 395.6 446.2 396.6 C448.09 397.6 450.12 400.55 452.92 402 C455.72 403.45 458.52 403.8 463 405.3 C467.48 406.8 474.2 408.02 479.8 411 C485.4 413.98 491 420.52 496.6 423.2 C502.2 425.88 507.8 427.1 513.4 427.1 C519 427.1 524.6 424.87 530.2 423.2 C535.8 421.53 541.4 418.78 547 417.1 C552.6 415.42 558.2 414.78 563.8 413.1 C569.4 411.42 575 409.15 580.6 407 C586.2 404.85 594.6 401.33 597.4 400.2" fill="none" stroke="#e3a18f" stroke-width="5.3" stroke-linejoin="round" stroke-linecap="round"/>
<path d="M429.4 480.2V493.2M427.1 480.2h4.6M427.1 493.2h4.6M439.48 380.2V400.2M437.18 380.2h4.6M437.18 400.2h4.6M446.2 391.2V402M443.9 391.2h4.6M443.9 402h4.6M452.92 396.4V407.6M450.62 396.4h4.6M450.62 407.6h4.6M463 397.8V412.8M460.7 397.8h4.6M460.7 412.8h4.6M479.8 403V419M477.5 403h4.6M477.5 419h4.6M496.6 416.2V430.2M494.3 416.2h4.6M494.3 430.2h4.6M513.4 421.6V432.6M511.1 421.6h4.6M511.1 432.6h4.6M530.2 419.2V427.2M527.9 419.2h4.6M527.9 427.2h4.6M547 413.6V420.6M544.7 413.6h4.6M544.7 420.6h4.6M563.8 409.1V417.1M561.5 409.1h4.6M561.5 417.1h4.6M580.6 402.5V411.5M578.3 402.5h4.6M578.3 411.5h4.6M597.4 395.2V405.2M595.1 395.2h4.6M595.1 405.2h4.6" stroke="#2a62b4" stroke-width="1" fill="none"/>
<circle cx="429.4" cy="486.7" r="2.3" fill="#e3a18f" stroke="#5a4a9c" stroke-width="0.9"/>
<circle cx="429.4" cy="486.7" r="0.7" fill="#f6d5cc"/>
<circle cx="439.48" cy="390.2" r="2.3" fill="#eef3fb" stroke="#2a62b4" stroke-width="0.9"/>
<circle cx="439.48" cy="390.2" r="0.7" fill="#f6d5cc"/>
<circle cx="446.2" cy="396.6" r="2.3" fill="#e3a18f" stroke="#5a4a9c" stroke-width="0.9"/>
<circle cx="446.2" cy="396.6" r="0.7" fill="#f6d5cc"/>
<circle cx="452.92" cy="402" r="2.3" fill="#e3a18f" stroke="#5a4a9c" stroke-width="0.9"/>
<circle cx="452.92" cy="402" r="0.7" fill="#f6d5cc"/>
<circle cx="463" cy="405.3" r="2.3" fill="#e3a18f" stroke="#5a4a9c" stroke-width="0.9"/>
<circle cx="463" cy="405.3" r="0.7" fill="#f6d5cc"/>
<circle cx="479.8" cy="411" r="2.3" fill="#e3a18f" stroke="#5a4a9c" stroke-width="0.9"/>
<circle cx="479.8" cy="411" r="0.7" fill="#f6d5cc"/>
<circle cx="496.6" cy="423.2" r="2.3" fill="#e3a18f" stroke="#5a4a9c" stroke-width="0.9"/>
<circle cx="496.6" cy="423.2" r="0.7" fill="#f6d5cc"/>
<circle cx="513.4" cy="427.1" r="2.3" fill="#e3a18f" stroke="#5a4a9c" stroke-width="0.9"/>
<circle cx="513.4" cy="427.1" r="0.7" fill="#f6d5cc"/>
<circle cx="530.2" cy="423.2" r="2.3" fill="#e3a18f" stroke="#5a4a9c" stroke-width="0.9"/>
<circle cx="530.2" cy="423.2" r="0.7" fill="#f6d5cc"/>
<circle cx="547" cy="417.1" r="2.3" fill="#e3a18f" stroke="#5a4a9c" stroke-width="0.9"/>
<circle cx="547" cy="417.1" r="0.7" fill="#f6d5cc"/>
<circle cx="563.8" cy="413.1" r="2.3" fill="#e3a18f" stroke="#5a4a9c" stroke-width="0.9"/>
<circle cx="563.8" cy="413.1" r="0.7" fill="#f6d5cc"/>
<circle cx="580.6" cy="407" r="2.3" fill="#e3a18f" stroke="#5a4a9c" stroke-width="0.9"/>
<circle cx="580.6" cy="407" r="0.7" fill="#f6d5cc"/>
<circle cx="597.4" cy="400.2" r="2.3" fill="#e3a18f" stroke="#5a4a9c" stroke-width="0.9"/>
<circle cx="597.4" cy="400.2" r="0.7" fill="#f6d5cc"/>
<rect x="412.6" y="596.7" width="202.0" height="25.7" fill="none" stroke="#e23a48" stroke-width="1.1" stroke-dasharray="2.8 2.3"/>
<circle cx="429.9" cy="616.9" r="3.7" fill="url(#ball)"/>
<circle cx="453.42" cy="616.5" r="3.7" fill="url(#ball)"/>
<circle cx="463.5" cy="610.4" r="3.7" fill="url(#ball)"/>
<circle cx="480.3" cy="615.5" r="3.7" fill="url(#ball)"/>
<circle cx="497.1" cy="615.5" r="3.7" fill="url(#ball)"/>
<circle cx="513.9" cy="605.1" r="3.7" fill="url(#ball)"/>
<circle cx="530.7" cy="606.5" r="3.7" fill="url(#ball)"/>
<circle cx="547.5" cy="608.3" r="3.7" fill="url(#ball)"/>
<circle cx="564.3" cy="618.3" r="3.7" fill="url(#ball)"/>
<circle cx="581.1" cy="602.9" r="3.7" fill="url(#ball)"/>
<circle cx="597.9" cy="604.3" r="3.7" fill="url(#ball)"/>
<path d="M412.6 223.2H614.6V648.2" fill="none" stroke="#8a8a8a" stroke-width="1"/>
<path d="M412.6 222.7V648.2" fill="none" stroke="#9c969e" stroke-width="1.45"/>
<path d="M412.0 648.2H615.1 M412.6 365.0H614.6 M412.6 507.2H614.6" fill="none" stroke="#555" stroke-width="0.9"/>
<path d="M412.6 353h4.4M412.6 295.3h4.4M412.6 237.6h4.4M412.6 324.15h2.4M412.6 266.45h2.4M412.6 390h4.4M412.6 423.3h4.4M412.6 456.6h4.4M412.6 489.9h4.4M412.6 373.35h2.4M412.6 406.65h2.4M412.6 439.95h2.4M412.6 473.25h2.4M412.6 516.9h4.4M412.6 567.45h4.4M412.6 618h4.4M412.6 542.17h2.4M412.6 592.72h2.4M412.6 643.27h2.4M429.4 648.2v-4.4M513.4 648.2v-4.4M597.4 648.2v-4.4M471.4 648.2v-2.4M555.4 648.2v-2.4" stroke="#555" stroke-width="0.9" fill="none"/>
<text x="394.1" y="240.8" font-size="9.6" fill="#2a2a2a" textLength="13.9" lengthAdjust="spacingAndGlyphs">0.2</text>
<text x="395.9" y="298.5" font-size="9.6" fill="#2a2a2a" textLength="12.1" lengthAdjust="spacingAndGlyphs">0.1</text>
<text x="402.2" y="356.2" font-size="9.6" fill="#2a2a2a" textLength="5.8" lengthAdjust="spacingAndGlyphs">0</text>
<text x="402.2" y="393.2" font-size="9.6" fill="#2a2a2a" textLength="5.8" lengthAdjust="spacingAndGlyphs">0</text>
<text x="385.6" y="426.5" font-size="9.6" fill="#2a2a2a" textLength="22.4" lengthAdjust="spacingAndGlyphs">−0.01</text>
<text x="383.8" y="459.8" font-size="9.6" fill="#2a2a2a" textLength="24.2" lengthAdjust="spacingAndGlyphs">−0.02</text>
<text x="383.8" y="493.1" font-size="9.6" fill="#2a2a2a" textLength="24.2" lengthAdjust="spacingAndGlyphs">−0.03</text>
<text x="402.2" y="520.1" font-size="9.6" fill="#2a2a2a" textLength="5.8" lengthAdjust="spacingAndGlyphs">0</text>
<text x="397.7" y="570.7" font-size="9.6" fill="#2a2a2a" textLength="10.3" lengthAdjust="spacingAndGlyphs">−5</text>
<text x="393.7" y="621.2" font-size="9.6" fill="#2a2a2a" textLength="14.3" lengthAdjust="spacingAndGlyphs">−10</text>
<text x="426.5" y="661.4" font-size="9.6" fill="#2a2a2a" textLength="5.8" lengthAdjust="spacingAndGlyphs">0</text>
<text x="507.6" y="661.4" font-size="9.6" fill="#2a2a2a" textLength="11.6" lengthAdjust="spacingAndGlyphs">25</text>
<text x="591.6" y="661.4" font-size="9.6" fill="#2a2a2a" textLength="11.6" lengthAdjust="spacingAndGlyphs">50</text>
<text x="513.8" y="678.8" font-size="11.3" fill="#2a2a2a" text-anchor="middle"><tspan font-style="italic">t</tspan> (nm)</text>
<text transform="translate(382.1 298.9) rotate(-90)" font-size="12.4" fill="#2a2a2a"><tspan font-style="italic">θ</tspan><tspan font-size="8.2" dx="0.6" dy="2.6" font-style="italic">y</tspan></text>
<text transform="translate(372.1 441.1) rotate(-90)" font-size="12.4" fill="#2a2a2a"><tspan font-style="italic">θ</tspan><tspan font-size="8.2" dx="0.6" dy="2.6" font-style="italic">z</tspan></text>
<text transform="translate(384.6 589.6) rotate(-90)" font-size="11.3" fill="#2a2a2a" textLength="21.8" lengthAdjust="spacingAndGlyphs"><tspan font-style="italic">β</tspan> (°)</text>
<text x="416.8" y="245.9" font-size="11.6" fill="#cf2f82" textLength="86.5" lengthAdjust="spacingAndGlyphs">Electron torques</text>
<text x="470" y="298.6" font-size="11.6" fill="#33468c" textLength="85.8" lengthAdjust="spacingAndGlyphs">Magnon torques</text>
<text x="362.1" y="234.9" font-size="15.6" font-weight="bold" fill="#151515" stroke="#151515" stroke-width="0.7" stroke-linejoin="round" textLength="10.29" lengthAdjust="spacingAndGlyphs">d</text>
<text x="362.1" y="377.8" font-size="15.6" font-weight="bold" fill="#151515" stroke="#151515" stroke-width="0.7" stroke-linejoin="round" textLength="9.37" lengthAdjust="spacingAndGlyphs">e</text>
<text x="362.1" y="522.1" font-size="15.6" font-weight="bold" fill="#151515" stroke="#151515" stroke-width="0.7" stroke-linejoin="round" textLength="10.29" lengthAdjust="spacingAndGlyphs">g</text>
<defs>
<radialGradient id="at_g" cx="0.5" cy="0.46" r="0.54"><stop offset="0" stop-color="#ffffff"/><stop offset="0.18" stop-color="#fbfcfb"/><stop offset="0.5" stop-color="#a9afab"/><stop offset="0.82" stop-color="#747a76"/><stop offset="1" stop-color="#8c928e"/></radialGradient>
<radialGradient id="at_gg" cx="0.5" cy="0.46" r="0.54"><stop offset="0" stop-color="#f4f8f2"/><stop offset="0.18" stop-color="#e6ece2"/><stop offset="0.5" stop-color="#a3ad9f"/><stop offset="0.82" stop-color="#737d72"/><stop offset="1" stop-color="#8b958a"/></radialGradient>
<radialGradient id="at_b" cx="0.5" cy="0.47" r="0.54"><stop offset="0" stop-color="#ffffff"/><stop offset="0.16" stop-color="#f4f5fd"/><stop offset="0.5" stop-color="#9ba1cc"/><stop offset="0.82" stop-color="#666ea8"/><stop offset="1" stop-color="#8389bb"/></radialGradient>
<radialGradient id="at_bg" cx="0.5" cy="0.47" r="0.54"><stop offset="0" stop-color="#f0f6f6"/><stop offset="0.16" stop-color="#e0eaec"/><stop offset="0.5" stop-color="#98aab4"/><stop offset="0.82" stop-color="#64798a"/><stop offset="1" stop-color="#8296a2"/></radialGradient>
<radialGradient id="at_bp" cx="0.5" cy="0.47" r="0.54"><stop offset="0" stop-color="#ecebfa"/><stop offset="0.16" stop-color="#dcdaf2"/><stop offset="0.5" stop-color="#9896c8"/><stop offset="0.82" stop-color="#6a68a6"/><stop offset="1" stop-color="#8886ba"/></radialGradient>
<radialGradient id="at_gd" cx="0.5" cy="0.46" r="0.54"><stop offset="0" stop-color="#f2f2f4"/><stop offset="0.18" stop-color="#e2e2e6"/><stop offset="0.5" stop-color="#9c9ca2"/><stop offset="0.82" stop-color="#6f6f76"/><stop offset="1" stop-color="#88888e"/></radialGradient>
<radialGradient id="elP"><stop offset="0" stop-color="#e1d3e5"/><stop offset="0.6" stop-color="#e7dcea"/><stop offset="0.85" stop-color="#f1eaf3"/><stop offset="1" stop-color="#fbf8fb"/></radialGradient>
<radialGradient id="elG"><stop offset="0" stop-color="#d5e4c9"/><stop offset="0.6" stop-color="#dce9d2"/><stop offset="0.85" stop-color="#e9f1e3"/><stop offset="1" stop-color="#f8fbf6"/></radialGradient>
<radialGradient id="elP2"><stop offset="0" stop-color="#dccde1"/><stop offset="0.55" stop-color="#e5daea"/><stop offset="0.85" stop-color="#f0eaf3"/><stop offset="1" stop-color="#fbf9fc"/></radialGradient>
<radialGradient id="elG2"><stop offset="0" stop-color="#cddcc2"/><stop offset="0.55" stop-color="#d9e6cf"/><stop offset="0.85" stop-color="#e8f0e2"/><stop offset="1" stop-color="#f8fbf6"/></radialGradient>
</defs>
<ellipse cx="49.4" cy="68.7" rx="18.6" ry="25.5" fill="url(#elP)"/>
<ellipse cx="90.8" cy="68.7" rx="18.6" ry="25.5" fill="url(#elG)"/>
<ellipse cx="47.9" cy="152" rx="18.2" ry="25.3" fill="url(#elG)"/>
<ellipse cx="90.6" cy="152" rx="18.2" ry="25.3" fill="url(#elP)"/>
<rect x="28.6" y="38.8" width="83.3" height="141.8" fill="none" stroke="#858585" stroke-width="0.95"/>
<path d="M60.4 44.6L42.7 68.7M60.4 44.6L67.3 66.7M42.7 68.7L49.4 90.8M67.3 66.7L49.4 90.8M67.3 66.7L94.2 51.3M67.3 66.7L84.4 84M94.2 51.3L111.5 69M84.4 84L111.5 69M28.1 153.3L45.8 136.5M28.1 153.3L55.6 168.8M45.8 136.5L72.9 151M55.6 168.8L72.9 151M72.9 151L79.8 129.2M72.9 151L91 175.4M79.8 129.2L97.5 153.3M91 175.4L97.5 153.3" stroke="#7c83ab" stroke-width="0.8" fill="none"/>
<path d="M70.15 39V180.4" stroke="#2e9edb" stroke-width="1.45" stroke-dasharray="2.3 2.4" fill="none"/>
<circle cx="60.4" cy="44.6" r="4.7" fill="url(#at_g)"/>
<circle cx="42.7" cy="68.7" r="5.3" fill="url(#at_b)"/>
<circle cx="67.3" cy="66.7" r="5.3" fill="url(#at_b)"/>
<circle cx="49.4" cy="90.8" r="4.7" fill="url(#at_g)"/>
<circle cx="94.2" cy="51.3" r="4.7" fill="url(#at_gg)"/>
<circle cx="111.5" cy="69" r="5.3" fill="url(#at_b)"/>
<circle cx="84.4" cy="84" r="4.7" fill="url(#at_gg)"/>
<circle cx="28.1" cy="153.3" r="5.3" fill="url(#at_b)"/>
<circle cx="45.8" cy="136.5" r="4.7" fill="url(#at_gg)"/>
<circle cx="55.6" cy="168.8" r="4.7" fill="url(#at_gg)"/>
<circle cx="72.9" cy="151" r="5.3" fill="url(#at_b)"/>
<circle cx="79.8" cy="129.2" r="4.7" fill="url(#at_g)"/>
<circle cx="97.5" cy="153.3" r="5.3" fill="url(#at_b)"/>
<circle cx="91" cy="175.4" r="4.7" fill="url(#at_g)"/>
<circle cx="105" cy="70.3" r="0.9" fill="#38a8d8"/>
<path d="M14.6 186.6V145M17.2 189.2H58" stroke="#34507c" stroke-width="1.05" fill="none"/>
<path d="M14.6 140.2l-2.2 6.2h4.4zM63 189.2l-6.2-2.2v4.4z" fill="#34507c"/>
<circle cx="14.6" cy="189.2" r="2.4" fill="#fff" stroke="#34507c" stroke-width="0.8"/><circle cx="14.6" cy="189.2" r="0.9" fill="#34507c"/>
<g font-size="11.6" font-style="italic" fill="#222">
<text x="10.5" y="138.2">c</text><text x="3.6" y="192.3">a</text><text x="64.8" y="193">b</text>
</g>
<text x="64.6" y="33" font-size="11.2" font-style="italic" fill="#2b3a82">M<tspan font-size="7.8" dy="2.8">y</tspan></text>
<ellipse cx="184" cy="69.3" rx="12.4" ry="26" fill="url(#elP2)"/>
<ellipse cx="224" cy="69.3" rx="12.4" ry="26" fill="url(#elP2)"/>
<ellipse cx="184.2" cy="151.2" rx="12" ry="25" fill="url(#elG2)"/>
<ellipse cx="224.2" cy="151.2" rx="12" ry="25" fill="url(#elG2)"/>
<rect x="184.4" y="39.2" width="38.3" height="142" fill="none" stroke="#707070" stroke-width="0.95"/>
<path d="M204 45.6L185.5 67.4M204 45.6L223.4 67.4M185.5 52.5L204 69.3M223.4 52.5L204 69.3M185.5 67.4L204 84M223.4 67.4L204 84M204 69.3L185.5 91.4M204 69.3L223.4 91.4M185.5 129.3L204 151.2M223.4 129.3L204 151.2M204 136.4L185.5 153M204 136.4L223.4 153M185.5 153L204 175.2M223.4 153L204 175.2M204 151.2L185.5 168.1M204 151.2L223.4 168.1" stroke="#7c83ab" stroke-width="0.8" fill="none"/>
<circle cx="204" cy="45.6" r="4.7" fill="url(#at_g)"/>
<circle cx="185.5" cy="52.5" r="4.7" fill="url(#at_gd)"/>
<circle cx="223.4" cy="52.5" r="4.7" fill="url(#at_gd)"/>
<circle cx="185.5" cy="67.4" r="5.3" fill="url(#at_bp)"/>
<circle cx="204" cy="69.3" r="5.3" fill="url(#at_b)"/>
<circle cx="223.4" cy="67.4" r="5.3" fill="url(#at_bp)"/>
<circle cx="204" cy="84" r="4.7" fill="url(#at_g)"/>
<circle cx="185.5" cy="91.4" r="4.7" fill="url(#at_gd)"/>
<circle cx="223.4" cy="91.4" r="4.7" fill="url(#at_gd)"/>
<circle cx="185.5" cy="129.3" r="4.7" fill="url(#at_gg)"/>
<circle cx="223.4" cy="129.3" r="4.7" fill="url(#at_gg)"/>
<circle cx="204" cy="136.4" r="4.7" fill="url(#at_g)"/>
<circle cx="185.5" cy="153" r="5.3" fill="url(#at_bg)"/>
<circle cx="204" cy="151.2" r="5.3" fill="url(#at_b)"/>
<circle cx="223.4" cy="153" r="5.3" fill="url(#at_bg)"/>
<circle cx="185.5" cy="168.1" r="4.7" fill="url(#at_gg)"/>
<circle cx="223.4" cy="168.1" r="4.7" fill="url(#at_gg)"/>
<circle cx="204" cy="175.2" r="4.7" fill="url(#at_g)"/>
<path d="M203.8 39.4V180.8" stroke="#2e9edb" stroke-width="1.45" stroke-dasharray="2.3 2.4" fill="none"/>
<path d="M164.5 186.7V145.6M167.1 189.3H208" stroke="#34507c" stroke-width="1.05" fill="none"/>
<path d="M164.5 140.8l-2.2 6.2h4.4zM213 189.3l-6.2-2.2v4.4z" fill="#34507c"/>
<circle cx="164.5" cy="189.3" r="2.4" fill="#fff" stroke="#34507c" stroke-width="0.8"/><circle cx="164.5" cy="189.3" r="0.9" fill="#34507c"/>
<g font-size="11.6" font-style="italic" fill="#222">
<text x="161" y="137.7">c</text><text x="152.6" y="192.4">b</text><text x="215.6" y="191.2">a</text>
</g>
<text x="199.2" y="32.4" font-size="11.2" font-style="italic" fill="#2b3a82">M<tspan font-size="7.8" dy="2.8">x</tspan></text>
<text x="4.4" y="20.5" font-size="15.6" font-weight="bold" fill="#151515" stroke="#151515" stroke-width="0.7" stroke-linejoin="round" textLength="9.37" lengthAdjust="spacingAndGlyphs">a</text>
<defs>
<linearGradient id="wtop" x1="0" y1="0" x2="1" y2="1"><stop offset="0" stop-color="#d6d8bd"/><stop offset="1" stop-color="#dddec3"/></linearGradient>
<radialGradient id="esph" cx="0.4" cy="0.35" r="0.7"><stop offset="0" stop-color="#b4dcac"/><stop offset="0.4" stop-color="#5ca65a"/><stop offset="1" stop-color="#3a7c3e"/></radialGradient>
<linearGradient id="coneR" x1="0" y1="0" x2="1" y2="0.6"><stop offset="0" stop-color="#bf6f22"/><stop offset="0.45" stop-color="#a85c18"/><stop offset="1" stop-color="#9a5214"/></linearGradient>
<linearGradient id="coneL" x1="0" y1="0" x2="0.3" y2="1"><stop offset="0" stop-color="#f0a040"/><stop offset="0.6" stop-color="#e08a2c"/><stop offset="1" stop-color="#c87420"/></linearGradient>
<linearGradient id="rcone" x1="1" y1="0" x2="0" y2="0"><stop offset="0" stop-color="#e08a84" stop-opacity="0.75"/><stop offset="1" stop-color="#e6a8a4" stop-opacity="0.7"/></linearGradient>
<linearGradient id="gcone" x1="0" y1="0" x2="1" y2="0"><stop offset="0" stop-color="#7cc096" stop-opacity="0.8"/><stop offset="1" stop-color="#9ad0ac" stop-opacity="0.75"/></linearGradient>
</defs>
<polygon points="281,120.4 373.3,76 459.6,129.4 367.8,173" fill="#d6d8c1" stroke="#d6d8c1" stroke-width="0.5" stroke-linejoin="round"/>
<polygon points="281,120.4 367.8,173 371.8,195.2 285.5,141.7" fill="#b6b8a6" stroke="#b6b8a6" stroke-width="0.5" stroke-linejoin="round"/>
<polygon points="367.8,173 459.6,129.4 463.6,149.4 371.8,195.2" fill="#e3e3cb" stroke="#e3e3cb" stroke-width="0.5" stroke-linejoin="round"/>
<polygon points="373.3,76 466,31 550.8,84.4 459.6,129.4" fill="#b8c5d9" stroke="#b8c5d9" stroke-width="0.5" stroke-linejoin="round"/>
<polygon points="459.6,129.4 550.8,84.4 555.6,106.3 463.6,149.4" fill="#bfcce0" stroke="#bfcce0" stroke-width="0.5" stroke-linejoin="round"/>
<polygon points="373.3,76 459.6,129.4 443.8,136.9 378.3,95.2" fill="#b7bdb1" stroke="#b7bdb1" stroke-width="0.5" stroke-linejoin="round"/>
<polygon points="459.6,129.4 463.6,149.4 443.8,136.9" fill="#d2d4ba" stroke="#d2d4ba" stroke-width="0.5" stroke-linejoin="round"/>
<polygon points="466,31 521.1,4.4 607.6,58.4 550.8,84.4" fill="#d3cde0" stroke="#d3cde0" stroke-width="0.5" stroke-linejoin="round"/>
<polygon points="550.8,84.4 607.6,58.4 611.6,79.3 555.6,106.3" fill="#d6d0e3" stroke="#d6d0e3" stroke-width="0.5" stroke-linejoin="round"/>
<polygon points="466,31 550.8,84.4 536.3,91.6 469.6,47.2" fill="#a9b1cd" stroke="#a9b1cd" stroke-width="0.5" stroke-linejoin="round"/>
<polygon points="550.8,84.4 555.6,106.3 536.3,91.6" fill="#b1bbd7" stroke="#b1bbd7" stroke-width="0.5" stroke-linejoin="round"/>
<g stroke="#63bd92" stroke-width="0.65" stroke-dasharray="1.8 2.4" fill="none"><path d="M320.1 100.7L342.1 119.1L352 135.9L356.6 150.5L362.6 163.5"/><path d="M337.4 92.9L353.3 101.8L373 108.8L396.8 117.5L424 120.9L433 123.8"/></g>
<path d="M363.6 166.6l-3.2-3.4 3.9-.9z M436.6 125l-4.2 1.3 1.2-3.6z" fill="#1f9a62"/>
<path d="M321.3 104.6L330.9 107.1" stroke="#d9852a" stroke-width="1.5" stroke-linecap="round"/><polygon points="330.5,106.9 334.8,103.8 339.1,108.3 332.6,111.3" fill="url(#coneR)" stroke="#b5641a" stroke-width="0.4" stroke-linejoin="round"/><polygon points="330.7,107 334.7,104.1 335.1,107.9 332.5,110.7" fill="#c27426"/><circle cx="327.9" cy="106.3" r="3" fill="url(#esph)"/>
<path d="M335.5 117.4L345.1 119.9" stroke="#d9852a" stroke-width="1.5" stroke-linecap="round"/><polygon points="344.7,119.7 349,116.6 353.3,121.1 346.8,124.1" fill="url(#coneR)" stroke="#b5641a" stroke-width="0.4" stroke-linejoin="round"/><polygon points="344.9,119.8 348.9,116.9 349.3,120.7 346.7,123.5" fill="#c27426"/><circle cx="342.1" cy="119.1" r="3" fill="url(#esph)"/>
<path d="M345.4 134.2L355 136.7" stroke="#d9852a" stroke-width="1.5" stroke-linecap="round"/><polygon points="354.6,136.5 358.9,133.4 363.2,137.9 356.7,140.9" fill="url(#coneR)" stroke="#b5641a" stroke-width="0.4" stroke-linejoin="round"/><polygon points="354.8,136.6 358.8,133.7 359.2,137.5 356.6,140.3" fill="#c27426"/><circle cx="352" cy="135.9" r="3" fill="url(#esph)"/>
<path d="M349.8 148.8L359.4 151.3" stroke="#d9852a" stroke-width="1.5" stroke-linecap="round"/><polygon points="359,151.1 363.3,148 367.6,152.5 361.1,155.5" fill="url(#coneR)" stroke="#b5641a" stroke-width="0.4" stroke-linejoin="round"/><polygon points="359.2,151.2 363.2,148.3 363.6,152.1 361,154.9" fill="#c27426"/><circle cx="356.4" cy="150.5" r="3" fill="url(#esph)"/>
<path d="M350.3 101.1L358.5 102.8" stroke="#d9852a" stroke-width="1.5" stroke-linecap="round"/><polygon points="350.7,101.1 346.9,97.2 340.7,100.1 345.8,104.2" fill="url(#coneL)" stroke="#d07c24" stroke-width="0.4" stroke-linejoin="round"/><polygon points="346.9,97.6 341.1,100.1 345.3,100.9" fill="#f2a84c"/><circle cx="353.3" cy="101.8" r="3" fill="url(#esph)"/>
<path d="M370 108.1L378.2 109.8" stroke="#d9852a" stroke-width="1.5" stroke-linecap="round"/><polygon points="370.4,108.1 366.6,104.2 360.4,107.1 365.5,111.2" fill="url(#coneL)" stroke="#d07c24" stroke-width="0.4" stroke-linejoin="round"/><polygon points="366.6,104.6 360.8,107.1 365,107.9" fill="#f2a84c"/><circle cx="373" cy="108.8" r="3" fill="url(#esph)"/>
<path d="M393.8 116.8L402 118.5" stroke="#d9852a" stroke-width="1.5" stroke-linecap="round"/><polygon points="394.2,116.8 390.4,112.9 384.2,115.8 389.3,119.9" fill="url(#coneL)" stroke="#d07c24" stroke-width="0.4" stroke-linejoin="round"/><polygon points="390.4,113.3 384.6,115.8 388.8,116.6" fill="#f2a84c"/><circle cx="396.8" cy="117.5" r="3" fill="url(#esph)"/>
<path d="M421 120.2L429.2 121.9" stroke="#d9852a" stroke-width="1.5" stroke-linecap="round"/><polygon points="421.4,120.2 417.6,116.3 411.4,119.2 416.5,123.3" fill="url(#coneL)" stroke="#d07c24" stroke-width="0.4" stroke-linejoin="round"/><polygon points="417.6,116.7 411.8,119.2 416,120" fill="#f2a84c"/><circle cx="424" cy="120.9" r="3" fill="url(#esph)"/>
<path d="M424.4 79L411.2 68.8C408 68.4 405.8 73.5 406.1 77.8C406.3 81.6 407.6 83.6 409.4 83.4Z" fill="#d99a94" fill-opacity="0.95"/><ellipse cx="409" cy="76.1" rx="2.7" ry="7.4" transform="rotate(-7 409 76.1)" fill="#e3ada8" fill-opacity="0.75"/><path d="M424.4 79L438 77C439 79.5 438 84.6 436 86.2Z" fill="#8cc5a1" fill-opacity="0.92"/><path d="M424.4 79L436 86.2L436.8 82Z" fill="#7ab892" fill-opacity="0.6"/><path d="M424.4 79L412.4 81" stroke="#da2c20" stroke-width="1.45"/><polygon points="407.4,81.9 412.8,78.1 413.6,83.9" fill="#d42418"/><polygon points="407.4,81.9 413.2,81 413.6,83.9" fill="#b01c14"/><path d="M424.4 79L434 77.5" stroke="#4f9e3e" stroke-width="1.45"/><polygon points="438.6,76.7 433,74.6 433.8,80.2" fill="#459632"/><polygon points="438.6,76.7 433.4,77.5 433.8,80.2" fill="#357a28"/>
<path d="M460.8 61.5L447.6 51.3C444.4 50.9 442.2 56 442.5 60.3C442.7 64.1 444 66.1 445.8 65.9Z" fill="#d99a94" fill-opacity="0.95"/><ellipse cx="445.4" cy="58.6" rx="2.7" ry="7.4" transform="rotate(-7 445.4 58.6)" fill="#e3ada8" fill-opacity="0.75"/><path d="M460.8 61.5L474.4 59.5C475.4 62 474.4 67.1 472.4 68.7Z" fill="#8cc5a1" fill-opacity="0.92"/><path d="M460.8 61.5L472.4 68.7L473.2 64.5Z" fill="#7ab892" fill-opacity="0.6"/><path d="M460.8 61.5L448.8 63.5" stroke="#da2c20" stroke-width="1.45"/><polygon points="443.8,64.4 449.2,60.6 450,66.4" fill="#d42418"/><polygon points="443.8,64.4 449.6,63.5 450,66.4" fill="#b01c14"/><path d="M460.8 61.5L470.4 60" stroke="#4f9e3e" stroke-width="1.45"/><polygon points="475,59.2 469.4,57.1 470.2,62.7" fill="#459632"/><polygon points="475,59.2 469.8,60 470.2,62.7" fill="#357a28"/>
<path d="M462.9 104L449.7 93.8C446.5 93.4 444.3 98.5 444.6 102.8C444.8 106.6 446.1 108.6 447.9 108.4Z" fill="#d99a94" fill-opacity="0.95"/><ellipse cx="447.5" cy="101.1" rx="2.7" ry="7.4" transform="rotate(-7 447.5 101.1)" fill="#e3ada8" fill-opacity="0.75"/><path d="M462.9 104L476.5 102C477.5 104.5 476.5 109.6 474.5 111.2Z" fill="#8cc5a1" fill-opacity="0.92"/><path d="M462.9 104L474.5 111.2L475.3 107Z" fill="#7ab892" fill-opacity="0.6"/><path d="M462.9 104L450.9 106" stroke="#da2c20" stroke-width="1.45"/><polygon points="445.9,106.9 451.3,103.1 452.1,108.9" fill="#d42418"/><polygon points="445.9,106.9 451.7,106 452.1,108.9" fill="#b01c14"/><path d="M462.9 104L472.5 102.5" stroke="#4f9e3e" stroke-width="1.45"/><polygon points="477.1,101.7 471.5,99.6 472.3,105.2" fill="#459632"/><polygon points="477.1,101.7 471.9,102.5 472.3,105.2" fill="#357a28"/>
<path d="M493.5 84.4L480.3 74.2C477.1 73.8 474.9 78.9 475.2 83.2C475.4 87 476.7 89 478.5 88.8Z" fill="#d99a94" fill-opacity="0.95"/><ellipse cx="478.1" cy="81.5" rx="2.7" ry="7.4" transform="rotate(-7 478.1 81.5)" fill="#e3ada8" fill-opacity="0.75"/><path d="M493.5 84.4L507.1 82.4C508.1 84.9 507.1 90 505.1 91.6Z" fill="#8cc5a1" fill-opacity="0.92"/><path d="M493.5 84.4L505.1 91.6L505.9 87.4Z" fill="#7ab892" fill-opacity="0.6"/><path d="M493.5 84.4L481.5 86.4" stroke="#da2c20" stroke-width="1.45"/><polygon points="476.5,87.3 481.9,83.5 482.7,89.3" fill="#d42418"/><polygon points="476.5,87.3 482.3,86.4 482.7,89.3" fill="#b01c14"/><path d="M493.5 84.4L503.1 82.9" stroke="#4f9e3e" stroke-width="1.45"/><polygon points="507.7,82.1 502.1,80 502.9,85.6" fill="#459632"/><polygon points="507.7,82.1 502.5,82.9 502.9,85.6" fill="#357a28"/>
<path d="M561.7 30.4C563.6 37.5 560.6 42.6 556.9 45.7C551 50 543 52 530.6 51" fill="none" stroke="#f0702a" stroke-width="1.15" stroke-dasharray="2.8 2.1"/>
<polygon points="525.8,48.4 531.2,48.9 529.4,53" fill="#f0702a"/>
<polygon points="533.33,38.58 515.62,49.33 516.29,44.19 509.3,55.8 522.83,54.96 517.96,53.18 535.67,42.42" fill="#a79ea8"/>
<polygon points="539.83,43.09 543.33,55.94 538.57,53.88 547.8,63.8 550.73,50.57 547.67,54.76 544.17,41.91" fill="#7a6f77"/>
<polygon points="548.38,41.79 568.66,46.65 564.56,49.83 577.7,46.5 567.5,37.58 569.71,42.27 549.42,37.41" fill="#45383c"/>
<polygon points="550.8,34.76 567.45,25.44 566.61,30.56 574,19.2 560.45,19.56 565.26,21.51 548.6,30.84" fill="#1d1112"/>
<path d="M573.9 19.2L588 27.9" stroke="#bf2c28" stroke-width="0.9"/>
<polygon points="592.3,30.6 585.4,29.9 588.2,25.4" fill="#b8262a"/>
<text x="571.4" y="16.6" font-size="10.8" font-style="italic" fill="#222">M</text>
<text x="496.6" y="46.9" font-size="10.8" font-style="italic" fill="#66666e">−M</text>
<text x="595.4" y="33.4" font-size="10.8" fill="#d0303c"><tspan font-style="italic">T</tspan><tspan font-size="7.2" dy="2">OP</tspan></text>
<g font-size="11.1" fill="#222">
<text transform="translate(284.6 79.6) rotate(-24)" textLength="69.5" lengthAdjust="spacingAndGlyphs">Electron spin</text>
<text transform="translate(290.4 91.9) rotate(-24)" textLength="37.6" lengthAdjust="spacingAndGlyphs">current</text>
<text transform="translate(373.1 36.5) rotate(-24)" textLength="66.3" lengthAdjust="spacingAndGlyphs">Magnon spin</text>
<text transform="translate(378.6 49.6) rotate(-24)" textLength="37.6" lengthAdjust="spacingAndGlyphs">current</text>
</g>
<path d="M292.5 100.4L354.6 70.6M380.2 57.3L442.4 27.1" stroke="#34507c" stroke-width="0.9" fill="none"/>
<polygon points="357.8,69 353.6,68.6 355.4,72.4" fill="#34507c"/><polygon points="445.6,25.5 441.4,25.1 443.2,28.9" fill="#34507c"/>
<g font-size="11.3" fill="#222">
<text transform="translate(409.4 190.2) rotate(-25.5)">WTe<tspan font-size="8" dy="3">2</tspan></text>
<text transform="translate(509.6 146) rotate(-25.5)">NiO</text>
<text transform="translate(571.2 114.2) rotate(-25.5)">CoFeB</text>
</g>
<path d="M565.9 144.6L573.3 184.6L543 166M573.3 184.6L611.6 166.4" stroke="#33496f" stroke-width="1.6" fill="none" stroke-linejoin="miter"/>
<polygon points="565.4,141.6 563.2,148.4 568.9,147.3" fill="#33496f"/><polygon points="539.4,163.9 546.4,164.6 543.4,169.6" fill="#33496f"/><polygon points="615.4,164.6 610.4,169.4 608.2,164.6" fill="#33496f"/>
<g font-size="10.8" font-style="italic" fill="#222"><text x="556.8" y="140">y</text><text x="530.6" y="163.6">x</text><text x="618.6" y="166">z</text></g>
<text x="280" y="20.5" font-size="15.6" font-weight="bold" fill="#151515" stroke="#151515" stroke-width="0.7" stroke-linejoin="round" textLength="10.29" lengthAdjust="spacingAndGlyphs">b</text>
</svg>
</body></html>
